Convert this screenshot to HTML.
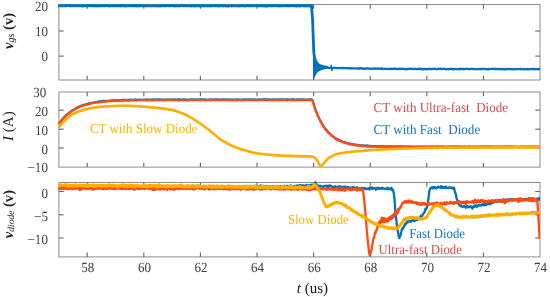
<!DOCTYPE html>
<html><head><meta charset="utf-8"><style>
html,body{margin:0;padding:0;background:#fff;}
svg{display:block;}
text{font-family:"Liberation Serif","Times New Roman",serif;text-rendering:geometricPrecision;}
.tk{font-size:14px;fill:#404040;}
.xl{font-size:15px;fill:#1a1a1a;}
.yl{font-size:14px;fill:#222;}
.an{font-size:13px;}
</style></head><body>
<svg width="550" height="297" viewBox="0 0 550 297">
<rect width="550" height="297" fill="#fff"/>
<defs><clipPath id="c1"><rect x="57.7" y="3.0" width="482.3" height="78.5"/></clipPath><clipPath id="c2"><rect x="57.7" y="90.5" width="482.3" height="78.1"/></clipPath><clipPath id="c3"><rect x="57.7" y="181.0" width="482.3" height="77.4"/></clipPath></defs><rect x="58.9" y="4.5" width="481.1" height="75.5" fill="none" stroke="#8c8c8c" stroke-width="1"/><line x1="87.20" y1="80.0" x2="87.20" y2="75.7" stroke="#666666" stroke-width="1.1"/><line x1="87.20" y1="4.5" x2="87.20" y2="8.8" stroke="#666666" stroke-width="1.1"/><line x1="143.80" y1="80.0" x2="143.80" y2="75.7" stroke="#666666" stroke-width="1.1"/><line x1="143.80" y1="4.5" x2="143.80" y2="8.8" stroke="#666666" stroke-width="1.1"/><line x1="200.40" y1="80.0" x2="200.40" y2="75.7" stroke="#666666" stroke-width="1.1"/><line x1="200.40" y1="4.5" x2="200.40" y2="8.8" stroke="#666666" stroke-width="1.1"/><line x1="257.00" y1="80.0" x2="257.00" y2="75.7" stroke="#666666" stroke-width="1.1"/><line x1="257.00" y1="4.5" x2="257.00" y2="8.8" stroke="#666666" stroke-width="1.1"/><line x1="313.60" y1="80.0" x2="313.60" y2="75.7" stroke="#666666" stroke-width="1.1"/><line x1="313.60" y1="4.5" x2="313.60" y2="8.8" stroke="#666666" stroke-width="1.1"/><line x1="370.20" y1="80.0" x2="370.20" y2="75.7" stroke="#666666" stroke-width="1.1"/><line x1="370.20" y1="4.5" x2="370.20" y2="8.8" stroke="#666666" stroke-width="1.1"/><line x1="426.80" y1="80.0" x2="426.80" y2="75.7" stroke="#666666" stroke-width="1.1"/><line x1="426.80" y1="4.5" x2="426.80" y2="8.8" stroke="#666666" stroke-width="1.1"/><line x1="483.40" y1="80.0" x2="483.40" y2="75.7" stroke="#666666" stroke-width="1.1"/><line x1="483.40" y1="4.5" x2="483.40" y2="8.8" stroke="#666666" stroke-width="1.1"/><line x1="58.9" y1="31.00" x2="63.7" y2="31.00" stroke="#666666" stroke-width="1.1"/><line x1="540.0" y1="31.00" x2="535.2" y2="31.00" stroke="#666666" stroke-width="1.1"/><line x1="58.9" y1="56.10" x2="63.7" y2="56.10" stroke="#666666" stroke-width="1.1"/><line x1="540.0" y1="56.10" x2="535.2" y2="56.10" stroke="#666666" stroke-width="1.1"/><rect x="58.9" y="92.0" width="481.1" height="75.1" fill="none" stroke="#8c8c8c" stroke-width="1"/><line x1="87.20" y1="167.1" x2="87.20" y2="162.8" stroke="#666666" stroke-width="1.1"/><line x1="87.20" y1="92.0" x2="87.20" y2="96.3" stroke="#666666" stroke-width="1.1"/><line x1="143.80" y1="167.1" x2="143.80" y2="162.8" stroke="#666666" stroke-width="1.1"/><line x1="143.80" y1="92.0" x2="143.80" y2="96.3" stroke="#666666" stroke-width="1.1"/><line x1="200.40" y1="167.1" x2="200.40" y2="162.8" stroke="#666666" stroke-width="1.1"/><line x1="200.40" y1="92.0" x2="200.40" y2="96.3" stroke="#666666" stroke-width="1.1"/><line x1="257.00" y1="167.1" x2="257.00" y2="162.8" stroke="#666666" stroke-width="1.1"/><line x1="257.00" y1="92.0" x2="257.00" y2="96.3" stroke="#666666" stroke-width="1.1"/><line x1="313.60" y1="167.1" x2="313.60" y2="162.8" stroke="#666666" stroke-width="1.1"/><line x1="313.60" y1="92.0" x2="313.60" y2="96.3" stroke="#666666" stroke-width="1.1"/><line x1="370.20" y1="167.1" x2="370.20" y2="162.8" stroke="#666666" stroke-width="1.1"/><line x1="370.20" y1="92.0" x2="370.20" y2="96.3" stroke="#666666" stroke-width="1.1"/><line x1="426.80" y1="167.1" x2="426.80" y2="162.8" stroke="#666666" stroke-width="1.1"/><line x1="426.80" y1="92.0" x2="426.80" y2="96.3" stroke="#666666" stroke-width="1.1"/><line x1="483.40" y1="167.1" x2="483.40" y2="162.8" stroke="#666666" stroke-width="1.1"/><line x1="483.40" y1="92.0" x2="483.40" y2="96.3" stroke="#666666" stroke-width="1.1"/><line x1="58.9" y1="110.10" x2="63.7" y2="110.10" stroke="#666666" stroke-width="1.1"/><line x1="540.0" y1="110.10" x2="535.2" y2="110.10" stroke="#666666" stroke-width="1.1"/><line x1="58.9" y1="129.20" x2="63.7" y2="129.20" stroke="#666666" stroke-width="1.1"/><line x1="540.0" y1="129.20" x2="535.2" y2="129.20" stroke="#666666" stroke-width="1.1"/><line x1="58.9" y1="148.00" x2="63.7" y2="148.00" stroke="#666666" stroke-width="1.1"/><line x1="540.0" y1="148.00" x2="535.2" y2="148.00" stroke="#666666" stroke-width="1.1"/><rect x="58.9" y="182.5" width="481.1" height="74.4" fill="none" stroke="#8c8c8c" stroke-width="1"/><line x1="87.20" y1="256.9" x2="87.20" y2="252.6" stroke="#666666" stroke-width="1.1"/><line x1="87.20" y1="182.5" x2="87.20" y2="186.8" stroke="#666666" stroke-width="1.1"/><line x1="143.80" y1="256.9" x2="143.80" y2="252.6" stroke="#666666" stroke-width="1.1"/><line x1="143.80" y1="182.5" x2="143.80" y2="186.8" stroke="#666666" stroke-width="1.1"/><line x1="200.40" y1="256.9" x2="200.40" y2="252.6" stroke="#666666" stroke-width="1.1"/><line x1="200.40" y1="182.5" x2="200.40" y2="186.8" stroke="#666666" stroke-width="1.1"/><line x1="257.00" y1="256.9" x2="257.00" y2="252.6" stroke="#666666" stroke-width="1.1"/><line x1="257.00" y1="182.5" x2="257.00" y2="186.8" stroke="#666666" stroke-width="1.1"/><line x1="313.60" y1="256.9" x2="313.60" y2="252.6" stroke="#666666" stroke-width="1.1"/><line x1="313.60" y1="182.5" x2="313.60" y2="186.8" stroke="#666666" stroke-width="1.1"/><line x1="370.20" y1="256.9" x2="370.20" y2="252.6" stroke="#666666" stroke-width="1.1"/><line x1="370.20" y1="182.5" x2="370.20" y2="186.8" stroke="#666666" stroke-width="1.1"/><line x1="426.80" y1="256.9" x2="426.80" y2="252.6" stroke="#666666" stroke-width="1.1"/><line x1="426.80" y1="182.5" x2="426.80" y2="186.8" stroke="#666666" stroke-width="1.1"/><line x1="483.40" y1="256.9" x2="483.40" y2="252.6" stroke="#666666" stroke-width="1.1"/><line x1="483.40" y1="182.5" x2="483.40" y2="186.8" stroke="#666666" stroke-width="1.1"/><line x1="58.9" y1="191.50" x2="63.7" y2="191.50" stroke="#666666" stroke-width="1.1"/><line x1="540.0" y1="191.50" x2="535.2" y2="191.50" stroke="#666666" stroke-width="1.1"/><line x1="58.9" y1="214.80" x2="63.7" y2="214.80" stroke="#666666" stroke-width="1.1"/><line x1="540.0" y1="214.80" x2="535.2" y2="214.80" stroke="#666666" stroke-width="1.1"/><line x1="58.9" y1="238.00" x2="63.7" y2="238.00" stroke="#666666" stroke-width="1.1"/><line x1="540.0" y1="238.00" x2="535.2" y2="238.00" stroke="#666666" stroke-width="1.1"/><g clip-path="url(#c1)"><polyline points="58.00,5.80 58.50,5.84 59.00,5.76 59.50,5.67 60.00,5.73 60.50,5.65 61.00,5.81 61.50,6.00 62.00,5.73 62.50,5.71 63.00,5.87 63.50,5.85 64.00,5.82 64.50,5.66 65.00,5.80 65.50,5.90 66.00,5.60 66.50,5.73 67.00,5.51 67.50,5.61 68.00,5.52 68.50,5.76 69.00,5.61 69.50,5.84 70.00,5.82 70.50,5.77 71.00,5.42 71.50,5.72 72.00,5.79 72.50,5.82 73.00,5.57 73.50,5.73 74.00,5.65 74.50,5.68 75.00,5.96 75.50,5.68 76.00,5.80 76.50,5.93 77.00,5.71 77.50,5.78 78.00,5.82 78.50,5.81 79.00,5.62 79.50,5.81 80.00,6.00 80.50,5.57 81.00,5.93 81.50,5.82 82.00,5.70 82.50,6.10 83.00,5.91 83.50,5.62 84.00,5.81 84.50,5.89 85.00,5.77 85.50,5.90 86.00,5.79 86.50,5.90 87.00,6.02 87.50,5.70 88.00,5.83 88.50,5.73 89.00,5.82 89.50,5.62 90.00,5.71 90.50,5.77 91.00,5.93 91.50,5.97 92.00,5.60 92.50,5.68 93.00,5.90 93.50,5.50 94.00,5.73 94.50,5.79 95.00,5.99 95.50,5.90 96.00,5.75 96.50,5.74 97.00,5.76 97.50,6.03 98.00,5.74 98.50,5.75 99.00,5.85 99.50,5.78 100.00,5.77 100.50,5.63 101.00,5.80 101.50,5.73 102.00,5.97 102.50,5.90 103.00,5.80 103.50,5.90 104.00,5.75 104.50,5.96 105.00,5.80 105.50,5.89 106.00,5.61 106.50,5.85 107.00,5.55 107.50,5.49 108.00,5.75 108.50,5.67 109.00,5.82 109.50,6.14 110.00,5.68 110.50,5.71 111.00,5.83 111.50,5.87 112.00,5.77 112.50,5.77 113.00,5.91 113.50,5.88 114.00,5.64 114.50,5.79 115.00,5.81 115.50,5.64 116.00,5.84 116.50,5.67 117.00,5.95 117.50,5.83 118.00,5.81 118.50,5.71 119.00,5.78 119.50,5.50 120.00,5.63 120.50,5.85 121.00,5.48 121.50,5.93 122.00,5.54 122.50,5.91 123.00,5.67 123.50,5.92 124.00,5.82 124.50,5.57 125.00,5.99 125.50,6.02 126.00,5.79 126.50,5.76 127.00,5.78 127.50,5.65 128.00,5.96 128.50,5.72 129.00,5.79 129.50,5.68 130.00,5.71 130.50,5.61 131.00,5.99 131.50,5.78 132.00,5.94 132.50,5.80 133.00,5.70 133.50,5.75 134.00,5.72 134.50,5.80 135.00,5.74 135.50,5.76 136.00,5.59 136.50,5.68 137.00,6.05 137.50,5.70 138.00,5.64 138.50,5.85 139.00,6.01 139.50,5.58 140.00,5.77 140.50,5.71 141.00,5.54 141.50,5.91 142.00,5.80 142.50,5.81 143.00,5.69 143.50,5.87 144.00,5.72 144.50,5.78 145.00,5.63 145.50,5.62 146.00,6.00 146.50,5.72 147.00,5.84 147.50,5.79 148.00,5.73 148.50,5.72 149.00,5.89 149.50,5.75 150.00,5.78 150.50,5.80 151.00,5.98 151.50,5.90 152.00,5.86 152.50,5.72 153.00,5.59 153.50,5.94 154.00,5.94 154.50,5.78 155.00,5.88 155.50,5.92 156.00,5.92 156.50,5.94 157.00,5.73 157.50,6.03 158.00,5.61 158.50,5.93 159.00,5.87 159.50,5.93 160.00,6.08 160.50,6.02 161.00,5.63 161.50,5.55 162.00,5.92 162.50,5.65 163.00,5.80 163.50,5.93 164.00,5.55 164.50,5.48 165.00,5.84 165.50,5.81 166.00,5.76 166.50,5.81 167.00,5.67 167.50,5.57 168.00,5.78 168.50,5.65 169.00,5.55 169.50,5.88 170.00,5.79 170.50,5.86 171.00,5.65 171.50,5.70 172.00,5.65 172.50,5.67 173.00,5.83 173.50,5.68 174.00,5.85 174.50,5.85 175.00,6.10 175.50,5.59 176.00,5.93 176.50,5.79 177.00,5.80 177.50,5.58 178.00,5.73 178.50,5.91 179.00,5.79 179.50,5.81 180.00,5.76 180.50,5.97 181.00,5.80 181.50,5.47 182.00,5.70 182.50,5.50 183.00,5.31 183.50,5.72 184.00,6.00 184.50,5.81 185.00,5.62 185.50,5.66 186.00,5.97 186.50,5.82 187.00,5.81 187.50,5.79 188.00,5.81 188.50,5.92 189.00,5.88 189.50,5.83 190.00,5.64 190.50,5.88 191.00,5.70 191.50,5.96 192.00,5.61 192.50,5.78 193.00,5.80 193.50,5.60 194.00,6.06 194.50,6.02 195.00,5.73 195.50,5.92 196.00,5.86 196.50,5.41 197.00,5.84 197.50,5.79 198.00,5.81 198.50,5.64 199.00,5.76 199.50,5.77 200.00,5.98 200.50,5.85 201.00,5.80 201.50,6.03 202.00,5.72 202.50,5.74 203.00,5.53 203.50,6.04 204.00,5.94 204.50,5.94 205.00,5.90 205.50,5.82 206.00,5.83 206.50,5.76 207.00,5.77 207.50,5.81 208.00,6.03 208.50,5.88 209.00,5.79 209.50,5.71 210.00,5.70 210.50,6.04 211.00,5.88 211.50,5.81 212.00,5.75 212.50,5.63 213.00,5.79 213.50,5.93 214.00,5.74 214.50,5.77 215.00,5.77 215.50,5.82 216.00,5.56 216.50,5.76 217.00,5.67 217.50,5.93 218.00,5.68 218.50,5.89 219.00,6.03 219.50,5.75 220.00,5.71 220.50,5.83 221.00,5.80 221.50,5.65 222.00,5.87 222.50,6.10 223.00,5.76 223.50,5.77 224.00,5.64 224.50,5.85 225.00,5.61 225.50,5.63 226.00,5.99 226.50,5.66 227.00,5.96 227.50,6.03 228.00,5.84 228.50,5.88 229.00,6.09 229.50,5.77 230.00,5.71 230.50,5.60 231.00,5.81 231.50,6.02 232.00,5.94 232.50,5.66 233.00,5.67 233.50,5.72 234.00,5.84 234.50,5.77 235.00,5.83 235.50,5.84 236.00,5.76 236.50,5.79 237.00,5.83 237.50,5.79 238.00,5.88 238.50,6.08 239.00,5.89 239.50,5.81 240.00,5.55 240.50,5.86 241.00,5.51 241.50,5.59 242.00,5.93 242.50,5.91 243.00,5.78 243.50,5.54 244.00,5.74 244.50,5.70 245.00,5.90 245.50,6.14 246.00,5.83 246.50,5.68 247.00,5.62 247.50,5.79 248.00,5.77 248.50,5.63 249.00,5.82 249.50,5.63 250.00,5.97 250.50,5.96 251.00,5.96 251.50,5.73 252.00,5.88 252.50,5.78 253.00,5.74 253.50,5.75 254.00,5.61 254.50,5.58 255.00,5.92 255.50,5.77 256.00,5.83 256.50,5.95 257.00,5.54 257.50,5.68 258.00,5.83 258.50,5.86 259.00,5.74 259.50,5.95 260.00,5.83 260.50,5.62 261.00,5.66 261.50,5.92 262.00,5.87 262.50,5.52 263.00,6.00 263.50,5.89 264.00,6.00 264.50,5.74 265.00,5.76 265.50,5.63 266.00,6.18 266.50,5.77 267.00,6.04 267.50,5.70 268.00,5.82 268.50,5.55 269.00,5.74 269.50,5.95 270.00,5.61 270.50,5.96 271.00,5.85 271.50,5.64 272.00,5.72 272.50,5.73 273.00,5.79 273.50,5.72 274.00,5.68 274.50,5.75 275.00,5.65 275.50,5.61 276.00,5.79 276.50,5.93 277.00,5.57 277.50,5.80 278.00,5.70 278.50,5.65 279.00,5.93 279.50,5.72 280.00,6.02 280.50,5.68 281.00,5.86 281.50,5.77 282.00,5.69 282.50,5.89 283.00,5.78 283.50,5.89 284.00,5.79 284.50,5.64 285.00,5.78 285.50,5.81 286.00,5.94 286.50,5.66 287.00,5.79 287.50,5.54 288.00,5.90 288.50,5.64 289.00,5.53 289.50,5.79 290.00,5.97 290.50,5.57 291.00,5.64 291.50,5.69 292.00,5.63 292.50,5.86 293.00,5.68 293.50,5.69 294.00,5.89 294.50,5.69 295.00,5.86 295.50,5.65 296.00,5.62 296.50,5.52 297.00,6.08 297.50,5.75 298.00,5.84 298.50,5.80 299.00,5.82 299.50,5.81 300.00,6.09 300.50,5.64 301.00,5.57 301.50,5.65 302.00,5.60 302.50,5.91 303.00,5.92 303.50,5.66 304.00,5.59 304.50,5.75 305.00,6.01 305.50,5.38 306.00,5.88 306.50,5.64 307.00,5.96 307.50,5.64 308.00,5.76 308.50,5.57 309.00,5.65 309.50,6.01 310.00,5.92 310.50,5.74 311.00,5.67 311.50,5.52 312.60,20.00 313.30,40.00 313.80,52.00 314.60,58.00 315.60,61.00 317.40,63.80 319.80,65.60 323.30,66.60 328.00,67.30" fill="none" stroke="#0072BD" stroke-width="2.8" stroke-linejoin="round" /><polygon points="312.9,45.0 313.8,52.0 314.6,58.0 315.6,61.0 317.4,63.8 319.8,65.6 323.3,66.6 328.0,67.5 329.2,68.6 324.5,69.2 321.0,70.2 318.6,71.6 316.8,73.3 315.0,76.3 314.0,79.5 313.0,79.5" fill="#0072BD"/><polyline points="328.0,67.82 328.5,67.90 329.0,67.90 329.5,67.91 330.0,67.71 330.5,67.93 331.0,67.95 331.5,68.22 332.0,68.35 332.5,67.95 333.0,67.84 333.5,67.99 334.0,67.89 334.5,67.87 335.0,68.02 335.5,67.83 336.0,68.17 336.5,68.03 337.0,68.11 337.5,68.04 338.0,67.94 338.5,67.90 339.0,68.05 339.5,68.00 340.0,68.17 340.5,68.13 341.0,67.87 341.5,68.16 342.0,67.89 342.5,68.04 343.0,68.12 343.5,67.77 344.0,68.21 344.5,68.23 345.0,68.18 345.5,68.14 346.0,68.16 346.5,68.04 347.0,68.19 347.5,68.15 348.0,68.28 348.5,68.03 349.0,68.33 349.5,68.32 350.0,68.27 350.5,68.22 351.0,68.43 351.5,68.00 352.0,68.43 352.5,68.39 353.0,68.41 353.5,68.44 354.0,68.24 354.5,68.33 355.0,68.52 355.5,68.48 356.0,68.45 356.5,68.11 357.0,68.53 357.5,68.67 358.0,68.64 358.5,68.50 359.0,68.15 359.5,68.65 360.0,68.44 360.5,67.98 361.0,68.57 361.5,68.20 362.0,68.25 362.5,68.39 363.0,68.78 363.5,68.46 364.0,68.59 364.5,68.89 365.0,68.87 365.5,68.54 366.0,68.52 366.5,68.32 367.0,68.44 367.5,68.68 368.0,68.68 368.5,68.63 369.0,68.81 369.5,68.47 370.0,68.62 370.5,68.78 371.0,68.76 371.5,68.86 372.0,68.73 372.5,68.60 373.0,68.74 373.5,68.47 374.0,68.35 374.5,68.80 375.0,68.68 375.5,68.76 376.0,68.37 376.5,68.64 377.0,68.60 377.5,68.55 378.0,68.28 378.5,68.67 379.0,68.92 379.5,68.83 380.0,68.63 380.5,68.76 381.0,68.92 381.5,68.22 382.0,68.75 382.5,68.89 383.0,68.92 383.5,69.13 384.0,69.02 384.5,68.86 385.0,68.87 385.5,68.97 386.0,68.71 386.5,68.81 387.0,69.01 387.5,69.22 388.0,68.80 388.5,68.83 389.0,68.88 389.5,69.11 390.0,68.84 390.5,69.15 391.0,68.66 391.5,68.82 392.0,68.82 392.5,69.02 393.0,69.08 393.5,68.57 394.0,68.69 394.5,68.94 395.0,68.75 395.5,68.58 396.0,69.09 396.5,68.99 397.0,68.99 397.5,68.80 398.0,69.10 398.5,68.85 399.0,69.12 399.5,68.72 400.0,68.73 400.5,68.94 401.0,68.76 401.5,69.04 402.0,68.96 402.5,68.72 403.0,68.92 403.5,68.84 404.0,69.09 404.5,68.79 405.0,68.83 405.5,69.16 406.0,69.36 406.5,69.32 407.0,68.93 407.5,68.96 408.0,69.23 408.5,68.90 409.0,68.73 409.5,68.95 410.0,69.02 410.5,68.76 411.0,68.60 411.5,68.64 412.0,69.07 412.5,68.78 413.0,68.91 413.5,68.98 414.0,69.06 414.5,68.87 415.0,69.04 415.5,68.76 416.0,68.87 416.5,68.74 417.0,69.17 417.5,68.94 418.0,68.80 418.5,68.88 419.0,68.91 419.5,69.09 420.0,68.63 420.5,68.75 421.0,68.88 421.5,69.46 422.0,69.15 422.5,68.94 423.0,69.10 423.5,69.37 424.0,68.92 424.5,68.89 425.0,69.21 425.5,69.06 426.0,69.10 426.5,68.87 427.0,69.35 427.5,69.31 428.0,69.08 428.5,69.11 429.0,68.57 429.5,69.10 430.0,68.94 430.5,69.06 431.0,69.11 431.5,68.91 432.0,68.64 432.5,69.05 433.0,68.83 433.5,68.92 434.0,68.86 434.5,68.92 435.0,68.52 435.5,69.23 436.0,69.04 436.5,69.21 437.0,69.39 437.5,69.00 438.0,68.63 438.5,68.82 439.0,68.75 439.5,68.90 440.0,69.01 440.5,68.60 441.0,69.07 441.5,68.70 442.0,69.06 442.5,68.98 443.0,68.94 443.5,68.99 444.0,68.90 444.5,68.88 445.0,68.67 445.5,69.00 446.0,69.38 446.5,69.41 447.0,69.28 447.5,69.15 448.0,68.88 448.5,69.30 449.0,69.00 449.5,69.00 450.0,68.96 450.5,69.04 451.0,68.93 451.5,69.00 452.0,68.80 452.5,68.95 453.0,69.48 453.5,69.01 454.0,68.98 454.5,69.13 455.0,69.17 455.5,68.80 456.0,68.99 456.5,69.21 457.0,69.08 457.5,69.05 458.0,69.34 458.5,68.90 459.0,69.05 459.5,68.93 460.0,69.33 460.5,68.64 461.0,68.90 461.5,68.93 462.0,69.17 462.5,69.16 463.0,69.32 463.5,68.72 464.0,69.19 464.5,68.98 465.0,68.91 465.5,69.15 466.0,68.86 466.5,68.63 467.0,68.97 467.5,68.75 468.0,68.92 468.5,69.12 469.0,69.11 469.5,69.37 470.0,69.01 470.5,68.74 471.0,68.90 471.5,68.87 472.0,68.81 472.5,69.14 473.0,68.92 473.5,68.66 474.0,69.19 474.5,69.03 475.0,69.13 475.5,69.08 476.0,69.18 476.5,69.07 477.0,69.31 477.5,69.14 478.0,69.14 478.5,69.14 479.0,68.77 479.5,69.03 480.0,69.01 480.5,69.10 481.0,68.79 481.5,69.39 482.0,69.09 482.5,68.82 483.0,68.72 483.5,69.01 484.0,69.05 484.5,68.92 485.0,69.09 485.5,68.94 486.0,69.18 486.5,68.93 487.0,69.06 487.5,69.27 488.0,69.59 488.5,68.87 489.0,68.98 489.5,68.91 490.0,69.23 490.5,68.84 491.0,68.98 491.5,69.07 492.0,68.88 492.5,68.88 493.0,68.98 493.5,68.66 494.0,68.79 494.5,69.00 495.0,69.11 495.5,69.04 496.0,68.72 496.5,68.99 497.0,69.24 497.5,69.19 498.0,69.07 498.5,68.90 499.0,69.21 499.5,68.97 500.0,68.85 500.5,68.92 501.0,69.37 501.5,69.13 502.0,69.32 502.5,68.99 503.0,69.27 503.5,68.97 504.0,69.05 504.5,69.58 505.0,69.24 505.5,68.99 506.0,69.07 506.5,69.15 507.0,69.33 507.5,68.99 508.0,68.74 508.5,69.03 509.0,69.09 509.5,69.11 510.0,69.35 510.5,69.15 511.0,69.25 511.5,68.87 512.0,69.27 512.5,69.51 513.0,69.25 513.5,69.14 514.0,69.12 514.5,69.45 515.0,68.91 515.5,69.07 516.0,69.19 516.5,69.24 517.0,69.01 517.5,69.16 518.0,69.04 518.5,69.12 519.0,69.07 519.5,68.87 520.0,69.09 520.5,69.27 521.0,68.90 521.5,69.05 522.0,69.23 522.5,68.88 523.0,69.13 523.5,68.88 524.0,69.32 524.5,69.56 525.0,69.50 525.5,69.05 526.0,69.25 526.5,69.12 527.0,69.12 527.5,69.41 528.0,68.83 528.5,69.31 529.0,69.09 529.5,69.38 530.0,69.14 530.5,68.96 531.0,69.15 531.5,69.25 532.0,69.11 532.5,69.20 533.0,69.00 533.5,68.67 534.0,69.28 534.5,69.24 535.0,69.13 535.5,69.11 536.0,69.31 536.5,69.01 537.0,68.96 537.5,69.06 538.0,69.34 538.5,68.82 539.0,69.34 539.5,68.97 540.0,68.88 540.5,69.35 541.0,69.08" fill="none" stroke="#0072BD" stroke-width="2.2" stroke-linejoin="round" /><polyline points="330.80,67.60 331.40,65.20 331.90,70.60 332.50,68.20" fill="none" stroke="#0072BD" stroke-width="1.4" stroke-linejoin="round" /></g><g clip-path="url(#c2)"><polyline points="58.9,123.40 59.4,122.82 59.9,122.32 60.4,121.69 60.9,120.79 61.4,120.28 61.9,119.71 62.4,118.91 62.9,118.48 63.4,117.86 63.9,117.24 64.4,116.71 64.9,116.28 65.4,115.78 65.9,115.20 66.4,114.75 66.9,114.53 67.4,113.95 67.9,113.62 68.4,113.25 68.9,112.76 69.4,112.62 69.9,111.77 70.4,111.65 70.9,111.12 71.4,111.10 71.9,110.74 72.4,109.86 72.9,109.69 73.4,109.63 73.9,109.35 74.4,109.05 74.9,108.65 75.4,108.45 75.9,108.22 76.4,107.85 76.9,107.77 77.4,107.03 77.9,107.23 78.4,106.75 78.9,106.83 79.4,106.44 79.9,106.13 80.4,106.12 80.9,105.73 81.4,105.54 81.9,105.26 82.4,105.31 82.9,105.21 83.4,105.12 83.9,104.78 84.4,104.80 84.9,104.49 85.4,104.33 85.9,104.28 86.4,104.22 86.9,103.87 87.4,103.75 87.9,103.63 88.4,103.55 88.9,103.28 89.4,103.45 89.9,103.12 90.4,103.14 90.9,102.84 91.4,102.91 91.9,102.82 92.4,102.60 92.9,102.87 93.4,102.53 93.9,102.65 94.4,102.44 94.9,102.11 95.4,102.07 95.9,102.11 96.4,101.98 96.9,101.90 97.4,101.78 97.9,101.48 98.4,101.65 98.9,101.29 99.4,101.61 99.9,101.38 100.4,101.32 100.9,101.34 101.4,101.36 101.9,101.05 102.4,100.94 102.9,100.99 103.4,100.80 103.9,100.91 104.4,101.25 104.9,100.80 105.4,101.01 105.9,100.67 106.4,100.88 106.9,100.74 107.4,100.74 107.9,100.80 108.4,100.94 108.9,100.67 109.4,100.62 109.9,100.42 110.4,100.62 110.9,100.47 111.4,100.60 111.9,100.43 112.4,100.67 112.9,100.09 113.4,100.31 113.9,100.46 114.4,100.25 114.9,100.16 115.4,100.21 115.9,100.02 116.4,100.22 116.9,100.55 117.4,100.33 117.9,99.97 118.4,99.99 118.9,100.04 119.4,100.23 119.9,99.94 120.4,99.94 120.9,100.16 121.4,100.14 121.9,99.94 122.4,99.81 122.9,99.73 123.4,99.84 123.9,99.60 124.4,100.03 124.9,99.81 125.4,99.96 125.9,100.16 126.4,100.04 126.9,99.68 127.4,99.97 127.9,100.00 128.4,99.70 128.9,99.66 129.4,99.78 129.9,99.54 130.4,100.00 130.9,99.40 131.4,99.59 131.9,99.71 132.4,99.70 132.9,99.75 133.4,99.76 133.9,99.68 134.4,99.88 134.9,99.38 135.4,99.69 135.9,99.58 136.4,99.70 136.9,99.70 137.4,99.53 137.9,99.56 138.4,99.77 138.9,99.70 139.4,99.54 139.9,99.94 140.4,99.97 140.9,99.40 141.4,99.66 141.9,99.99 142.4,99.73 142.9,99.64 143.4,99.57 143.9,99.51 144.4,99.56 144.9,99.50 145.4,99.69 145.9,99.52 146.4,99.51 146.9,99.39 147.4,99.56 147.9,99.43 148.4,99.53 148.9,99.71 149.4,99.61 149.9,99.63 150.4,99.60 150.9,99.55 151.4,99.52 151.9,99.49 152.4,99.65 152.9,99.37 153.4,99.73 153.9,99.53 154.4,99.41 154.9,99.45 155.4,99.42 155.9,99.54 156.4,99.41 156.9,99.69 157.4,99.40 157.9,99.17 158.4,99.40 158.9,99.21 159.4,99.50 159.9,99.66 160.4,99.60 160.9,99.30 161.4,99.39 161.9,99.77 162.4,99.55 162.9,99.50 163.4,99.65 163.9,99.86 164.4,99.69 164.9,99.51 165.4,99.54 165.9,99.58 166.4,99.40 166.9,99.33 167.4,99.49 167.9,99.34 168.4,99.47 168.9,99.50 169.4,99.83 169.9,99.35 170.4,99.46 170.9,99.45 171.4,99.54 171.9,99.63 172.4,99.40 172.9,99.35 173.4,99.23 173.9,99.33 174.4,99.55 174.9,99.48 175.4,99.32 175.9,99.42 176.4,99.48 176.9,99.55 177.4,99.38 177.9,99.43 178.4,99.20 178.9,99.29 179.4,99.71 179.9,99.14 180.4,99.42 180.9,99.50 181.4,99.41 181.9,99.34 182.4,99.46 182.9,99.46 183.4,99.45 183.9,99.18 184.4,99.44 184.9,99.33 185.4,99.38 185.9,99.50 186.4,99.56 186.9,99.60 187.4,99.39 187.9,99.60 188.4,99.64 188.9,99.63 189.4,99.67 189.9,99.44 190.4,99.43 190.9,99.58 191.4,99.25 191.9,99.49 192.4,99.38 192.9,99.40 193.4,99.20 193.9,99.32 194.4,99.45 194.9,99.59 195.4,99.60 195.9,99.44 196.4,99.43 196.9,99.33 197.4,99.52 197.9,99.42 198.4,99.55 198.9,99.72 199.4,99.45 199.9,99.23 200.4,99.33 200.9,99.24 201.4,99.27 201.9,99.65 202.4,99.49 202.9,99.23 203.4,99.55 203.9,99.64 204.4,99.40 204.9,99.35 205.4,99.40 205.9,99.50 206.4,99.55 206.9,99.63 207.4,99.64 207.9,99.63 208.4,99.66 208.9,99.55 209.4,99.22 209.9,99.43 210.4,99.50 210.9,99.40 211.4,99.59 211.9,99.40 212.4,99.31 212.9,99.67 213.4,99.55 213.9,99.49 214.4,99.59 214.9,99.61 215.4,99.50 215.9,99.08 216.4,99.35 216.9,99.38 217.4,99.30 217.9,99.48 218.4,99.63 218.9,99.38 219.4,99.28 219.9,99.76 220.4,99.38 220.9,99.27 221.4,99.49 221.9,99.52 222.4,99.35 222.9,99.57 223.4,99.38 223.9,99.31 224.4,99.48 224.9,99.57 225.4,99.36 225.9,99.50 226.4,99.44 226.9,99.87 227.4,99.34 227.9,99.66 228.4,99.44 228.9,99.43 229.4,99.56 229.9,99.58 230.4,99.64 230.9,99.50 231.4,99.36 231.9,99.37 232.4,99.53 232.9,99.54 233.4,99.66 233.9,99.51 234.4,99.61 234.9,99.68 235.4,99.48 235.9,99.23 236.4,99.27 236.9,99.23 237.4,99.69 237.9,99.32 238.4,99.64 238.9,99.54 239.4,99.71 239.9,99.60 240.4,99.44 240.9,99.42 241.4,99.46 241.9,99.48 242.4,99.37 242.9,99.45 243.4,99.69 243.9,99.20 244.4,99.49 244.9,99.31 245.4,99.48 245.9,99.58 246.4,99.44 246.9,99.57 247.4,99.21 247.9,99.62 248.4,99.36 248.9,99.54 249.4,99.48 249.9,99.06 250.4,99.34 250.9,99.48 251.4,99.68 251.9,99.49 252.4,99.49 252.9,99.24 253.4,99.66 253.9,99.72 254.4,99.45 254.9,99.42 255.4,99.21 255.9,99.58 256.4,99.86 256.9,99.56 257.4,99.64 257.9,99.53 258.4,99.30 258.9,99.65 259.4,99.26 259.9,99.42 260.4,99.49 260.9,99.58 261.4,99.51 261.9,99.51 262.4,99.34 262.9,99.26 263.4,99.46 263.9,99.34 264.4,99.25 264.9,99.26 265.4,99.38 265.9,99.17 266.4,99.25 266.9,99.20 267.4,99.48 267.9,99.51 268.4,99.75 268.9,99.23 269.4,99.35 269.9,99.59 270.4,99.42 270.9,99.40 271.4,99.71 271.9,99.40 272.4,99.28 272.9,99.25 273.4,99.50 273.9,99.50 274.4,99.24 274.9,99.30 275.4,99.53 275.9,99.54 276.4,99.35 276.9,99.54 277.4,99.54 277.9,99.18 278.4,99.40 278.9,99.51 279.4,99.36 279.9,99.13 280.4,99.41 280.9,99.56 281.4,99.69 281.9,99.12 282.4,99.84 282.9,99.28 283.4,99.59 283.9,99.64 284.4,99.60 284.9,99.47 285.4,99.28 285.9,99.54 286.4,99.34 286.9,99.07 287.4,99.87 287.9,99.56 288.4,99.72 288.9,99.31 289.4,99.67 289.9,99.69 290.4,99.68 290.9,99.45 291.4,99.27 291.9,99.42 292.4,99.12 292.9,99.19 293.4,99.46 293.9,99.30 294.4,99.43 294.9,99.43 295.4,99.74 295.9,99.64 296.4,99.44 296.9,99.63 297.4,99.33 297.9,99.40 298.4,99.59 298.9,99.26 299.4,99.41 299.9,99.25 300.4,99.47 300.9,99.69 301.4,99.34 301.9,99.48 302.4,99.32 302.9,99.28 303.4,99.26 303.9,99.67 304.4,99.80 304.9,99.52 305.4,99.34 305.9,99.56 306.4,99.40 306.9,99.57 307.4,99.49 307.9,99.49 308.4,99.54 308.9,99.36 309.4,99.39 309.9,99.19 310.4,99.38 310.9,99.24 311.4,99.43 311.9,99.31 312.4,99.81 312.9,101.55 313.4,102.90 313.9,104.56 314.4,106.05 314.9,107.76 315.4,109.31 315.9,110.53 316.4,111.66 316.9,113.19 317.4,113.95 317.9,115.57 318.4,116.38 318.9,117.14 319.4,119.00 319.9,119.85 320.4,120.43 320.9,121.55 321.4,122.40 321.9,123.31 322.4,123.91 322.9,124.84 323.4,125.80 323.9,126.51 324.4,127.38 324.9,127.91 325.4,128.93 325.9,129.12 326.4,129.89 326.9,130.16 327.4,130.84 327.9,131.79 328.4,131.99 328.9,132.73 329.4,133.15 329.9,133.48 330.4,134.05 330.9,134.48 331.4,134.91 331.9,135.52 332.4,135.90 332.9,136.11 333.4,136.43 333.9,136.97 334.4,137.26 334.9,137.76 335.4,138.33 335.9,138.37 336.4,138.54 336.9,138.81 337.4,138.98 337.9,139.24 338.4,139.49 338.9,139.83 339.4,140.06 339.9,140.47 340.4,140.52 340.9,140.77 341.4,140.82 341.9,141.45 342.4,141.48 342.9,141.85 343.4,141.88 343.9,142.16 344.4,142.07 344.9,142.37 345.4,142.83 345.9,142.38 346.4,142.89 346.9,143.11 347.4,143.05 347.9,143.23 348.4,143.43 348.9,143.26 349.4,143.53 349.9,143.45 350.4,143.59 350.9,143.70 351.4,143.87 351.9,144.01 352.4,144.15 352.9,143.95 353.4,144.56 353.9,144.52 354.4,144.53 354.9,144.44 355.4,144.56 355.9,144.73 356.4,144.77 356.9,144.52 357.4,144.95 357.9,145.35 358.4,144.68 358.9,145.17 359.4,145.13 359.9,145.11 360.4,145.39 360.9,145.05 361.4,145.30 361.9,145.55 362.4,145.34 362.9,145.34 363.4,145.47 363.9,145.42 364.4,145.77 364.9,145.43 365.4,145.74 365.9,145.44 366.4,145.77 366.9,145.68 367.4,145.33 367.9,145.76 368.4,145.62 368.9,145.75 369.4,146.08 369.9,145.70 370.4,145.73 370.9,146.14 371.4,145.96 371.9,146.20 372.4,146.03 372.9,145.87 373.4,146.01 373.9,146.23 374.4,146.21 374.9,146.08 375.4,146.10 375.9,146.09 376.4,146.04 376.9,146.44 377.4,146.16 377.9,146.00 378.4,146.11 378.9,146.31 379.4,146.31 379.9,146.20 380.4,146.13 380.9,146.25 381.4,146.00 381.9,146.07 382.4,146.40 382.9,146.21 383.4,146.36 383.9,146.49 384.4,146.42 384.9,146.33 385.4,146.66 385.9,146.44 386.4,146.29 386.9,146.47 387.4,146.42 387.9,146.24 388.4,146.39 388.9,146.36 389.4,146.08 389.9,146.37 390.4,146.36 390.9,146.34 391.4,146.16 391.9,146.36 392.4,146.41 392.9,146.44 393.4,146.25 393.9,146.53 394.4,146.25 394.9,146.41 395.4,146.65 395.9,146.34 396.4,146.37 396.9,146.62 397.4,146.40 397.9,146.42 398.4,146.50 398.9,146.63 399.4,146.13 399.9,146.35 400.4,146.32 400.9,146.31 401.4,146.35 401.9,146.36 402.4,146.53 402.9,146.35 403.4,146.51 403.9,146.56 404.4,146.38 404.9,146.52 405.4,146.75 405.9,146.55 406.4,146.41 406.9,146.50 407.4,146.37 407.9,146.55 408.4,146.64 408.9,146.39 409.4,146.48 409.9,146.68 410.4,146.44 410.9,146.55 411.4,146.36 411.9,146.39 412.4,146.44 412.9,146.85 413.4,146.46 413.9,146.44 414.4,146.44 414.9,146.50 415.4,146.62 415.9,146.56 416.4,146.84 416.9,146.56 417.4,146.75 417.9,146.57 418.4,146.62 418.9,146.31 419.4,146.51 419.9,146.52 420.4,146.50 420.9,146.21 421.4,146.67 421.9,146.48 422.4,146.47 422.9,146.50 423.4,146.50 423.9,146.60 424.4,146.35 424.9,146.40 425.4,146.58 425.9,146.56 426.4,146.48 426.9,146.45 427.4,146.41 427.9,146.53 428.4,146.72 428.9,146.38 429.4,146.77 429.9,146.67 430.4,146.47 430.9,146.66 431.4,146.32 431.9,146.28 432.4,146.35 432.9,146.48 433.4,146.49 433.9,146.47 434.4,146.56 434.9,146.22 435.4,146.62 435.9,146.33 436.4,146.45 436.9,146.48 437.4,146.37 437.9,146.34 438.4,146.39 438.9,146.54 439.4,146.63 439.9,146.63 440.4,146.40 440.9,146.43 441.4,146.41 441.9,146.61 442.4,146.24 442.9,146.73 443.4,146.47 443.9,146.43 444.4,146.60 444.9,146.70 445.4,146.60 445.9,146.71 446.4,146.57 446.9,146.73 447.4,146.73 447.9,146.53 448.4,146.76 448.9,146.57 449.4,146.56 449.9,146.41 450.4,146.50 450.9,146.66 451.4,146.35 451.9,146.65 452.4,146.60 452.9,146.59 453.4,146.22 453.9,146.53 454.4,146.65 454.9,146.43 455.4,146.56 455.9,146.19 456.4,146.65 456.9,146.45 457.4,146.68 457.9,146.27 458.4,146.65 458.9,146.51 459.4,146.67 459.9,146.41 460.4,146.46 460.9,146.89 461.4,146.42 461.9,146.44 462.4,146.51 462.9,146.40 463.4,146.73 463.9,146.81 464.4,146.44 464.9,146.29 465.4,146.73 465.9,146.72 466.4,146.67 466.9,146.72 467.4,146.42 467.9,146.52 468.4,146.34 468.9,146.34 469.4,146.70 469.9,146.45 470.4,146.89 470.9,146.56 471.4,146.45 471.9,146.67 472.4,146.82 472.9,146.62 473.4,146.37 473.9,146.61 474.4,146.76 474.9,146.48 475.4,146.43 475.9,146.70 476.4,146.57 476.9,146.38 477.4,146.49 477.9,146.44 478.4,146.59 478.9,146.57 479.4,146.72 479.9,146.66 480.4,146.32 480.9,146.61 481.4,146.68 481.9,146.62 482.4,146.70 482.9,146.47 483.4,146.41 483.9,146.69 484.4,146.39 484.9,146.23 485.4,146.70 485.9,146.44 486.4,146.50 486.9,146.34 487.4,146.35 487.9,146.38 488.4,146.50 488.9,146.61 489.4,146.21 489.9,146.66 490.4,146.37 490.9,146.39 491.4,146.65 491.9,146.54 492.4,146.32 492.9,146.83 493.4,146.42 493.9,146.59 494.4,146.58 494.9,146.76 495.4,146.48 495.9,146.70 496.4,146.44 496.9,146.72 497.4,146.44 497.9,146.50 498.4,146.83 498.9,146.60 499.4,146.57 499.9,146.89 500.4,146.60 500.9,146.43 501.4,146.66 501.9,146.37 502.4,146.72 502.9,146.73 503.4,146.46 503.9,146.46 504.4,146.58 504.9,146.55 505.4,146.40 505.9,146.64 506.4,146.24 506.9,146.49 507.4,146.49 507.9,146.51 508.4,146.60 508.9,146.37 509.4,146.64 509.9,146.52 510.4,146.45 510.9,146.34 511.4,146.37 511.9,146.60 512.4,146.41 512.9,146.56 513.4,146.71 513.9,146.70 514.4,146.78 514.9,146.51 515.4,146.39 515.9,146.70 516.4,146.60 516.9,146.72 517.4,146.55 517.9,146.73 518.4,146.68 518.9,146.66 519.4,146.63 519.9,146.61 520.4,146.58 520.9,146.58 521.4,146.70 521.9,146.47 522.4,146.81 522.9,146.53 523.4,146.70 523.9,146.54 524.4,146.51 524.9,146.85 525.4,146.50 525.9,146.36 526.4,146.44 526.9,146.50 527.4,146.87 527.9,146.58 528.4,146.69 528.9,146.40 529.4,146.60 529.9,146.65 530.4,146.82 530.9,146.45 531.4,146.64 531.9,146.60 532.4,146.40 532.9,146.55 533.4,146.51 533.9,146.20 534.4,146.64 534.9,146.63 535.4,146.48 535.9,146.35 536.4,146.77 536.9,146.59 537.4,146.70 537.9,146.76 538.4,146.47 538.9,146.67 539.4,146.51 539.9,146.54 540.4,146.54 540.9,146.55" fill="none" stroke="#0072BD" stroke-width="2.0" stroke-linejoin="round" /><polyline points="58.9,124.36 59.4,123.50 59.9,122.76 60.4,122.07 60.9,121.51 61.4,120.69 61.9,120.13 62.4,119.60 62.9,118.94 63.4,118.44 63.9,117.82 64.4,117.69 64.9,117.07 65.4,116.44 65.9,115.88 66.4,115.75 66.9,115.01 67.4,114.51 67.9,114.14 68.4,113.72 68.9,113.48 69.4,112.87 69.9,112.81 70.4,111.99 70.9,111.87 71.4,111.27 71.9,111.36 72.4,110.71 72.9,110.43 73.4,110.27 73.9,110.02 74.4,109.37 74.9,109.21 75.4,108.78 75.9,108.74 76.4,108.45 76.9,108.16 77.4,107.87 77.9,107.68 78.4,107.40 78.9,107.37 79.4,107.30 79.9,106.57 80.4,106.64 80.9,106.40 81.4,106.35 81.9,105.95 82.4,105.89 82.9,105.58 83.4,105.67 83.9,105.42 84.4,105.22 84.9,105.15 85.4,104.91 85.9,104.56 86.4,104.75 86.9,104.56 87.4,104.36 87.9,104.41 88.4,104.32 88.9,103.85 89.4,103.78 89.9,104.01 90.4,103.88 90.9,103.45 91.4,103.28 91.9,103.26 92.4,103.18 92.9,102.93 93.4,103.08 93.9,102.79 94.4,102.71 94.9,102.95 95.4,102.63 95.9,102.64 96.4,102.67 96.9,102.62 97.4,102.37 97.9,102.36 98.4,102.16 98.9,102.48 99.4,102.25 99.9,101.93 100.4,102.03 100.9,102.08 101.4,101.99 101.9,102.14 102.4,102.01 102.9,101.67 103.4,101.69 103.9,101.46 104.4,101.64 104.9,101.58 105.4,101.92 105.9,101.49 106.4,101.12 106.9,101.29 107.4,101.37 107.9,101.12 108.4,101.14 108.9,101.18 109.4,101.25 109.9,101.14 110.4,101.00 110.9,101.22 111.4,100.99 111.9,100.97 112.4,100.80 112.9,100.87 113.4,101.05 113.9,100.69 114.4,100.89 114.9,100.99 115.4,100.80 115.9,100.87 116.4,100.64 116.9,100.98 117.4,100.93 117.9,100.78 118.4,100.46 118.9,100.54 119.4,100.83 119.9,100.92 120.4,100.69 120.9,100.81 121.4,100.52 121.9,100.56 122.4,100.58 122.9,100.62 123.4,100.32 123.9,100.67 124.4,100.72 124.9,100.33 125.4,100.29 125.9,100.53 126.4,100.37 126.9,100.10 127.4,100.56 127.9,100.45 128.4,100.35 128.9,100.72 129.4,100.42 129.9,100.27 130.4,100.39 130.9,100.21 131.4,100.24 131.9,100.41 132.4,100.26 132.9,100.26 133.4,100.57 133.9,100.44 134.4,100.43 134.9,100.38 135.4,100.36 135.9,100.50 136.4,100.27 136.9,100.55 137.4,100.12 137.9,100.22 138.4,100.04 138.9,100.19 139.4,100.32 139.9,100.45 140.4,100.13 140.9,100.22 141.4,100.16 141.9,100.10 142.4,100.03 142.9,100.21 143.4,99.94 143.9,100.21 144.4,100.19 144.9,100.09 145.4,100.03 145.9,99.97 146.4,100.45 146.9,99.97 147.4,100.40 147.9,100.25 148.4,100.11 148.9,99.98 149.4,100.31 149.9,100.41 150.4,100.01 150.9,100.10 151.4,100.30 151.9,100.19 152.4,100.44 152.9,100.05 153.4,100.21 153.9,99.94 154.4,100.44 154.9,100.01 155.4,99.79 155.9,100.10 156.4,100.10 156.9,100.40 157.4,100.06 157.9,100.11 158.4,100.20 158.9,100.35 159.4,100.10 159.9,100.26 160.4,100.18 160.9,100.06 161.4,100.11 161.9,100.10 162.4,99.96 162.9,100.28 163.4,99.89 163.9,100.27 164.4,100.24 164.9,100.08 165.4,99.97 165.9,100.05 166.4,100.16 166.9,100.20 167.4,100.13 167.9,100.23 168.4,100.00 168.9,100.12 169.4,99.85 169.9,100.19 170.4,100.10 170.9,100.02 171.4,100.25 171.9,100.18 172.4,99.65 172.9,100.08 173.4,99.86 173.9,100.23 174.4,100.45 174.9,99.99 175.4,100.08 175.9,100.03 176.4,100.12 176.9,100.17 177.4,100.26 177.9,99.92 178.4,100.30 178.9,99.93 179.4,100.11 179.9,100.24 180.4,100.17 180.9,99.92 181.4,99.96 181.9,100.00 182.4,100.06 182.9,100.24 183.4,99.87 183.9,100.13 184.4,100.15 184.9,100.15 185.4,100.13 185.9,100.29 186.4,100.13 186.9,100.19 187.4,100.15 187.9,100.33 188.4,99.77 188.9,100.25 189.4,100.02 189.9,100.02 190.4,99.91 190.9,99.78 191.4,100.00 191.9,99.95 192.4,100.13 192.9,99.84 193.4,100.27 193.9,100.10 194.4,100.02 194.9,99.95 195.4,99.94 195.9,99.89 196.4,99.97 196.9,100.06 197.4,100.03 197.9,99.84 198.4,100.02 198.9,99.92 199.4,100.08 199.9,100.33 200.4,100.15 200.9,100.01 201.4,99.81 201.9,99.84 202.4,99.80 202.9,100.16 203.4,99.94 203.9,100.06 204.4,99.96 204.9,100.07 205.4,100.26 205.9,99.95 206.4,100.00 206.9,99.93 207.4,100.18 207.9,99.90 208.4,99.88 208.9,99.84 209.4,99.84 209.9,100.12 210.4,100.44 210.9,99.90 211.4,100.20 211.9,100.09 212.4,99.89 212.9,100.01 213.4,100.02 213.9,99.95 214.4,100.34 214.9,99.77 215.4,100.11 215.9,100.10 216.4,99.96 216.9,100.07 217.4,100.18 217.9,100.07 218.4,100.11 218.9,100.16 219.4,99.75 219.9,100.27 220.4,100.39 220.9,100.20 221.4,100.20 221.9,99.84 222.4,100.03 222.9,99.93 223.4,99.96 223.9,100.20 224.4,99.93 224.9,100.03 225.4,99.76 225.9,100.03 226.4,100.06 226.9,99.95 227.4,99.94 227.9,100.33 228.4,99.87 228.9,99.89 229.4,99.93 229.9,100.23 230.4,100.37 230.9,100.10 231.4,99.94 231.9,99.99 232.4,100.21 232.9,99.91 233.4,100.27 233.9,100.26 234.4,100.06 234.9,100.15 235.4,100.16 235.9,100.28 236.4,99.89 236.9,100.23 237.4,99.99 237.9,99.94 238.4,100.07 238.9,100.02 239.4,99.90 239.9,99.81 240.4,99.91 240.9,100.27 241.4,100.34 241.9,100.15 242.4,100.23 242.9,99.97 243.4,100.04 243.9,100.09 244.4,99.89 244.9,99.90 245.4,100.06 245.9,100.00 246.4,99.89 246.9,100.11 247.4,100.01 247.9,100.20 248.4,100.05 248.9,100.01 249.4,100.07 249.9,100.02 250.4,99.95 250.9,99.99 251.4,100.16 251.9,100.15 252.4,100.24 252.9,99.80 253.4,99.99 253.9,99.99 254.4,100.08 254.9,99.98 255.4,99.97 255.9,100.17 256.4,100.08 256.9,99.88 257.4,100.25 257.9,100.20 258.4,99.96 258.9,100.17 259.4,99.94 259.9,100.22 260.4,100.02 260.9,99.93 261.4,99.99 261.9,99.94 262.4,100.08 262.9,100.08 263.4,100.06 263.9,99.97 264.4,99.50 264.9,100.06 265.4,99.77 265.9,100.09 266.4,100.22 266.9,100.09 267.4,99.99 267.9,100.02 268.4,100.03 268.9,99.97 269.4,99.96 269.9,99.91 270.4,100.23 270.9,100.05 271.4,100.19 271.9,100.01 272.4,100.06 272.9,100.02 273.4,100.12 273.9,100.17 274.4,100.09 274.9,99.95 275.4,99.93 275.9,100.30 276.4,100.01 276.9,100.01 277.4,100.27 277.9,100.21 278.4,100.13 278.9,99.99 279.4,100.40 279.9,100.11 280.4,100.13 280.9,100.02 281.4,99.84 281.9,99.85 282.4,100.11 282.9,100.11 283.4,100.01 283.9,99.87 284.4,99.83 284.9,100.00 285.4,99.83 285.9,100.18 286.4,100.22 286.9,100.47 287.4,100.18 287.9,99.96 288.4,99.92 288.9,99.53 289.4,99.96 289.9,100.02 290.4,100.20 290.9,100.14 291.4,100.14 291.9,100.08 292.4,100.15 292.9,100.27 293.4,99.89 293.9,99.98 294.4,99.84 294.9,100.29 295.4,100.24 295.9,100.16 296.4,99.87 296.9,100.08 297.4,100.01 297.9,100.06 298.4,100.02 298.9,100.13 299.4,99.99 299.9,100.18 300.4,100.09 300.9,100.01 301.4,100.03 301.9,99.98 302.4,100.17 302.9,100.01 303.4,100.09 303.9,99.99 304.4,99.83 304.9,100.19 305.4,99.89 305.9,100.15 306.4,100.11 306.9,99.80 307.4,99.91 307.9,99.97 308.4,99.93 308.9,99.87 309.4,100.16 309.9,100.01 310.4,100.11 310.9,99.99 311.4,100.10 311.9,99.94 312.4,100.39 312.9,102.17 313.4,103.72 313.9,105.21 314.4,106.63 314.9,108.27 315.4,109.70 315.9,110.97 316.4,112.19 316.9,113.65 317.4,115.15 317.9,115.90 318.4,117.12 318.9,118.22 319.4,118.82 319.9,120.23 320.4,121.08 320.9,122.33 321.4,122.99 321.9,123.78 322.4,124.70 322.9,125.57 323.4,126.24 323.9,127.07 324.4,127.60 324.9,128.47 325.4,129.29 325.9,130.12 326.4,130.55 326.9,131.09 327.4,131.81 327.9,132.35 328.4,132.98 328.9,133.42 329.4,133.74 329.9,134.28 330.4,134.73 330.9,135.20 331.4,135.62 331.9,135.89 332.4,136.09 332.9,136.69 333.4,136.86 333.9,137.54 334.4,137.88 334.9,137.96 335.4,138.64 335.9,138.97 336.4,139.16 336.9,139.68 337.4,139.99 337.9,139.80 338.4,140.39 338.9,140.55 339.4,140.79 339.9,141.10 340.4,141.08 340.9,141.31 341.4,141.48 341.9,141.69 342.4,141.99 342.9,141.97 343.4,142.21 343.9,142.62 344.4,142.69 344.9,142.92 345.4,142.74 345.9,143.05 346.4,143.23 346.9,143.46 347.4,143.50 347.9,143.85 348.4,143.83 348.9,143.96 349.4,144.07 349.9,144.29 350.4,144.22 350.9,144.56 351.4,144.56 351.9,144.61 352.4,144.69 352.9,144.85 353.4,145.01 353.9,145.08 354.4,145.08 354.9,145.23 355.4,145.19 355.9,145.43 356.4,145.31 356.9,145.07 357.4,145.64 357.9,145.52 358.4,145.39 358.9,145.59 359.4,145.54 359.9,146.04 360.4,145.85 360.9,145.59 361.4,145.96 361.9,145.86 362.4,146.25 362.9,145.85 363.4,145.71 363.9,146.10 364.4,146.08 364.9,146.10 365.4,145.88 365.9,146.30 366.4,146.52 366.9,146.01 367.4,146.51 367.9,146.27 368.4,146.74 368.9,146.48 369.4,146.41 369.9,146.63 370.4,146.57 370.9,146.43 371.4,146.65 371.9,146.48 372.4,146.31 372.9,146.91 373.4,146.57 373.9,146.55 374.4,146.71 374.9,146.44 375.4,146.49 375.9,146.64 376.4,146.65 376.9,146.75 377.4,146.93 377.9,146.70 378.4,146.86 378.9,146.89 379.4,146.65 379.9,146.86 380.4,146.69 380.9,147.01 381.4,146.93 381.9,146.87 382.4,146.68 382.9,146.91 383.4,146.78 383.9,147.01 384.4,146.90 384.9,146.80 385.4,147.07 385.9,147.05 386.4,146.86 386.9,147.13 387.4,146.92 387.9,146.92 388.4,146.99 388.9,146.87 389.4,146.92 389.9,146.97 390.4,147.23 390.9,147.23 391.4,146.97 391.9,147.26 392.4,147.01 392.9,147.08 393.4,147.16 393.9,147.08 394.4,147.40 394.9,147.08 395.4,146.87 395.9,147.25 396.4,146.99 396.9,147.01 397.4,146.61 397.9,147.21 398.4,147.19 398.9,147.19 399.4,147.22 399.9,147.33 400.4,147.07 400.9,147.22 401.4,146.97 401.9,147.03 402.4,147.25 402.9,147.15 403.4,146.89 403.9,147.15 404.4,147.07 404.9,146.98 405.4,147.17 405.9,147.04 406.4,146.87 406.9,146.94 407.4,147.37 407.9,146.88 408.4,147.14 408.9,147.20 409.4,147.21 409.9,146.93 410.4,147.07 410.9,147.14 411.4,147.24 411.9,147.02 412.4,146.95 412.9,147.27 413.4,147.29 413.9,147.18 414.4,147.03 414.9,147.19 415.4,147.14 415.9,147.25 416.4,146.94 416.9,147.15 417.4,147.11 417.9,146.96 418.4,147.16 418.9,147.14 419.4,147.07 419.9,147.19 420.4,146.92 420.9,147.13 421.4,147.20 421.9,147.18 422.4,147.30 422.9,146.96 423.4,146.91 423.9,147.17 424.4,147.21 424.9,147.46 425.4,147.23 425.9,147.01 426.4,147.26 426.9,147.01 427.4,146.92 427.9,147.53 428.4,147.19 428.9,147.25 429.4,147.23 429.9,147.41 430.4,147.18 430.9,147.32 431.4,146.99 431.9,146.93 432.4,147.36 432.9,147.36 433.4,147.22 433.9,147.18 434.4,147.17 434.9,147.04 435.4,147.38 435.9,147.24 436.4,147.22 436.9,147.20 437.4,147.30 437.9,147.22 438.4,147.26 438.9,146.97 439.4,147.22 439.9,147.47 440.4,147.07 440.9,147.13 441.4,147.28 441.9,147.29 442.4,147.24 442.9,146.90 443.4,147.22 443.9,146.97 444.4,147.02 444.9,147.23 445.4,147.10 445.9,147.27 446.4,147.62 446.9,147.26 447.4,147.26 447.9,147.01 448.4,147.05 448.9,146.99 449.4,147.07 449.9,146.98 450.4,147.05 450.9,147.12 451.4,147.00 451.9,146.94 452.4,146.94 452.9,147.22 453.4,147.16 453.9,147.30 454.4,147.31 454.9,147.10 455.4,147.25 455.9,146.93 456.4,147.49 456.9,147.33 457.4,147.12 457.9,146.97 458.4,147.21 458.9,146.87 459.4,147.03 459.9,147.26 460.4,147.16 460.9,147.08 461.4,147.29 461.9,146.99 462.4,147.19 462.9,147.07 463.4,147.02 463.9,147.22 464.4,147.00 464.9,147.43 465.4,147.06 465.9,147.45 466.4,146.99 466.9,147.24 467.4,146.97 467.9,146.95 468.4,147.17 468.9,147.25 469.4,146.96 469.9,147.33 470.4,147.03 470.9,147.17 471.4,147.21 471.9,147.24 472.4,146.88 472.9,147.39 473.4,147.23 473.9,147.09 474.4,147.00 474.9,146.90 475.4,146.95 475.9,147.23 476.4,147.10 476.9,146.98 477.4,147.07 477.9,147.38 478.4,147.10 478.9,147.06 479.4,147.35 479.9,147.22 480.4,147.16 480.9,147.06 481.4,146.92 481.9,146.97 482.4,147.08 482.9,147.12 483.4,147.20 483.9,147.23 484.4,147.18 484.9,147.18 485.4,147.00 485.9,146.83 486.4,147.07 486.9,147.01 487.4,147.05 487.9,147.11 488.4,146.96 488.9,146.98 489.4,147.13 489.9,147.17 490.4,147.05 490.9,147.22 491.4,147.12 491.9,147.00 492.4,147.16 492.9,147.43 493.4,147.05 493.9,147.32 494.4,147.36 494.9,147.37 495.4,147.03 495.9,147.45 496.4,147.17 496.9,147.11 497.4,147.12 497.9,147.24 498.4,147.16 498.9,147.12 499.4,147.34 499.9,147.04 500.4,146.99 500.9,147.27 501.4,147.26 501.9,147.31 502.4,146.99 502.9,147.31 503.4,147.22 503.9,147.41 504.4,146.96 504.9,147.18 505.4,147.11 505.9,146.91 506.4,147.04 506.9,147.32 507.4,147.08 507.9,147.04 508.4,147.28 508.9,147.30 509.4,147.30 509.9,147.03 510.4,147.14 510.9,147.30 511.4,147.05 511.9,147.04 512.4,147.27 512.9,147.38 513.4,146.98 513.9,146.76 514.4,146.93 514.9,147.00 515.4,147.13 515.9,147.24 516.4,147.13 516.9,147.04 517.4,147.17 517.9,147.01 518.4,147.14 518.9,147.05 519.4,147.55 519.9,147.27 520.4,147.02 520.9,147.00 521.4,147.08 521.9,146.90 522.4,147.04 522.9,147.04 523.4,147.28 523.9,147.09 524.4,147.03 524.9,146.95 525.4,146.97 525.9,147.14 526.4,147.12 526.9,147.32 527.4,147.06 527.9,147.31 528.4,147.19 528.9,147.15 529.4,146.85 529.9,146.96 530.4,147.26 530.9,147.36 531.4,147.18 531.9,147.26 532.4,147.09 532.9,147.09 533.4,147.05 533.9,147.30 534.4,147.20 534.9,147.11 535.4,147.10 535.9,147.23 536.4,147.20 536.9,147.03 537.4,147.41 537.9,147.19 538.4,147.15 538.9,147.37 539.4,147.30 539.9,147.14 540.4,147.23 540.9,146.99" fill="none" stroke="#FF4A10" stroke-width="2.3" stroke-linejoin="round" /><polyline points="58.9,127.74 59.4,126.79 59.9,126.37 60.4,125.32 60.9,124.87 61.4,124.06 61.9,123.42 62.4,122.92 62.9,122.42 63.4,121.93 63.9,121.55 64.4,120.92 64.9,120.51 65.4,119.90 65.9,119.59 66.4,119.09 66.9,118.59 67.4,118.18 67.9,117.75 68.4,117.33 68.9,116.93 69.4,116.42 69.9,115.99 70.4,115.75 70.9,115.14 71.4,114.91 71.9,114.81 72.4,114.10 72.9,114.02 73.4,113.89 73.9,113.39 74.4,113.57 74.9,112.80 75.4,112.97 75.9,112.76 76.4,112.47 76.9,112.15 77.4,112.00 77.9,111.68 78.4,111.65 78.9,111.28 79.4,111.18 79.9,111.13 80.4,110.75 80.9,110.66 81.4,110.55 81.9,110.24 82.4,110.33 82.9,110.10 83.4,109.76 83.9,109.76 84.4,109.54 84.9,109.42 85.4,109.35 85.9,109.14 86.4,109.18 86.9,108.89 87.4,108.94 87.9,108.73 88.4,108.71 88.9,108.46 89.4,108.36 89.9,108.20 90.4,108.28 90.9,108.23 91.4,108.26 91.9,108.09 92.4,107.91 92.9,107.78 93.4,107.76 93.9,107.64 94.4,107.72 94.9,107.59 95.4,107.35 95.9,107.29 96.4,107.44 96.9,107.27 97.4,107.15 97.9,107.24 98.4,107.02 98.9,106.98 99.4,106.91 99.9,106.71 100.4,106.95 100.9,106.70 101.4,106.72 101.9,106.65 102.4,106.76 102.9,106.64 103.4,106.61 103.9,106.40 104.4,106.52 104.9,106.34 105.4,106.49 105.9,106.46 106.4,106.39 106.9,106.56 107.4,106.38 107.9,106.36 108.4,106.29 108.9,106.23 109.4,106.32 109.9,106.31 110.4,106.05 110.9,106.27 111.4,106.20 111.9,106.22 112.4,106.15 112.9,105.96 113.4,105.95 113.9,106.23 114.4,106.05 114.9,105.87 115.4,106.03 115.9,105.94 116.4,105.78 116.9,105.71 117.4,105.77 117.9,105.94 118.4,105.89 118.9,105.86 119.4,105.90 119.9,105.92 120.4,105.64 120.9,105.81 121.4,105.75 121.9,105.70 122.4,105.76 122.9,105.80 123.4,105.78 123.9,105.66 124.4,105.75 124.9,106.00 125.4,105.70 125.9,105.63 126.4,105.84 126.9,105.87 127.4,105.87 127.9,105.72 128.4,105.95 128.9,105.78 129.4,105.76 129.9,105.83 130.4,105.90 130.9,106.00 131.4,106.01 131.9,105.97 132.4,106.09 132.9,106.02 133.4,106.13 133.9,105.93 134.4,105.93 134.9,106.20 135.4,106.01 135.9,106.14 136.4,106.19 136.9,106.18 137.4,106.21 137.9,106.42 138.4,106.06 138.9,106.43 139.4,106.60 139.9,106.40 140.4,106.42 140.9,106.52 141.4,106.67 141.9,106.40 142.4,106.56 142.9,106.57 143.4,106.68 143.9,106.67 144.4,106.76 144.9,106.69 145.4,106.78 145.9,106.75 146.4,106.80 146.9,106.89 147.4,106.94 147.9,106.88 148.4,107.20 148.9,107.08 149.4,107.00 149.9,107.30 150.4,107.16 150.9,107.33 151.4,107.33 151.9,107.41 152.4,107.45 152.9,107.43 153.4,107.54 153.9,107.79 154.4,107.41 154.9,107.70 155.4,107.78 155.9,107.69 156.4,107.71 156.9,108.11 157.4,107.91 157.9,108.21 158.4,108.10 158.9,108.11 159.4,108.20 159.9,108.27 160.4,108.38 160.9,108.36 161.4,108.39 161.9,108.45 162.4,108.63 162.9,108.63 163.4,108.51 163.9,108.61 164.4,108.77 164.9,108.74 165.4,108.84 165.9,108.85 166.4,108.99 166.9,109.13 167.4,109.26 167.9,109.24 168.4,109.53 168.9,109.40 169.4,109.81 169.9,109.68 170.4,109.72 170.9,109.72 171.4,109.60 171.9,109.97 172.4,110.12 172.9,110.42 173.4,110.22 173.9,110.68 174.4,110.60 174.9,110.84 175.4,110.66 175.9,111.08 176.4,111.19 176.9,111.45 177.4,111.56 177.9,111.60 178.4,111.98 178.9,112.13 179.4,112.30 179.9,112.52 180.4,112.71 180.9,112.79 181.4,112.84 181.9,113.03 182.4,113.50 182.9,113.63 183.4,113.77 183.9,113.93 184.4,114.19 184.9,114.42 185.4,114.61 185.9,114.82 186.4,115.35 186.9,115.42 187.4,115.59 187.9,115.79 188.4,116.12 188.9,116.54 189.4,116.83 189.9,117.02 190.4,117.34 190.9,117.59 191.4,117.81 191.9,118.35 192.4,118.56 192.9,119.07 193.4,119.05 193.9,119.42 194.4,119.82 194.9,120.01 195.4,120.21 195.9,120.56 196.4,120.98 196.9,121.32 197.4,121.60 197.9,122.04 198.4,122.37 198.9,122.63 199.4,122.94 199.9,123.26 200.4,123.68 200.9,124.06 201.4,124.33 201.9,124.72 202.4,125.00 202.9,125.25 203.4,125.65 203.9,126.19 204.4,126.52 204.9,127.00 205.4,127.21 205.9,127.66 206.4,128.07 206.9,128.41 207.4,128.62 207.9,129.04 208.4,129.44 208.9,129.70 209.4,130.23 209.9,130.68 210.4,130.94 210.9,131.59 211.4,131.78 211.9,132.21 212.4,132.63 212.9,133.01 213.4,133.55 213.9,133.95 214.4,134.54 214.9,134.87 215.4,135.29 215.9,135.64 216.4,135.95 216.9,136.50 217.4,136.84 217.9,137.42 218.4,137.72 218.9,138.29 219.4,138.57 219.9,138.96 220.4,139.26 220.9,139.60 221.4,139.98 221.9,140.33 222.4,140.48 222.9,140.90 223.4,141.41 223.9,141.44 224.4,141.71 224.9,141.95 225.4,142.16 225.9,142.70 226.4,142.86 226.9,143.16 227.4,143.58 227.9,143.90 228.4,143.82 228.9,144.27 229.4,144.47 229.9,144.69 230.4,144.94 230.9,145.13 231.4,145.52 231.9,145.66 232.4,145.86 232.9,146.17 233.4,146.35 233.9,146.52 234.4,146.72 234.9,147.07 235.4,147.15 235.9,147.29 236.4,147.41 236.9,147.66 237.4,147.78 237.9,148.08 238.4,148.28 238.9,148.23 239.4,148.61 239.9,148.85 240.4,148.97 240.9,149.03 241.4,149.42 241.9,149.38 242.4,149.49 242.9,149.66 243.4,149.92 243.9,150.17 244.4,150.34 244.9,150.39 245.4,150.40 245.9,150.59 246.4,150.71 246.9,150.93 247.4,150.91 247.9,151.23 248.4,151.42 248.9,151.48 249.4,151.67 249.9,151.66 250.4,151.73 250.9,151.94 251.4,152.24 251.9,152.35 252.4,152.31 252.9,152.59 253.4,152.55 253.9,152.84 254.4,152.83 254.9,152.84 255.4,153.05 255.9,152.99 256.4,153.06 256.9,153.10 257.4,153.36 257.9,153.41 258.4,153.50 258.9,153.54 259.4,153.81 259.9,153.70 260.4,153.75 260.9,154.02 261.4,154.11 261.9,154.07 262.4,153.92 262.9,154.10 263.4,154.28 263.9,154.28 264.4,154.49 264.9,154.25 265.4,154.51 265.9,154.43 266.4,154.67 266.9,154.58 267.4,154.73 267.9,154.61 268.4,154.58 268.9,154.65 269.4,154.75 269.9,154.74 270.4,155.01 270.9,155.06 271.4,154.99 271.9,154.90 272.4,155.03 272.9,155.01 273.4,155.26 273.9,155.18 274.4,155.23 274.9,155.17 275.4,155.04 275.9,155.20 276.4,155.19 276.9,155.37 277.4,155.37 277.9,155.31 278.4,155.38 278.9,155.60 279.4,155.37 279.9,155.40 280.4,155.50 280.9,155.47 281.4,155.52 281.9,155.64 282.4,155.78 282.9,155.45 283.4,155.65 283.9,155.67 284.4,155.68 284.9,155.69 285.4,155.69 285.9,155.85 286.4,155.72 286.9,155.77 287.4,155.80 287.9,155.83 288.4,155.82 288.9,155.95 289.4,155.87 289.9,155.90 290.4,155.89 290.9,155.81 291.4,155.85 291.9,155.84 292.4,155.98 292.9,155.91 293.4,155.89 293.9,156.03 294.4,156.07 294.9,155.86 295.4,156.22 295.9,156.07 296.4,156.07 296.9,156.21 297.4,156.12 297.9,156.07 298.4,156.37 298.9,156.06 299.4,156.17 299.9,156.28 300.4,156.11 300.9,156.22 301.4,156.28 301.9,156.49 302.4,156.18 302.9,156.27 303.4,156.35 303.9,156.31 304.4,156.19 304.9,156.36 305.4,156.34 305.9,156.38 306.4,156.46 306.9,156.46 307.4,156.42 307.9,156.42 308.4,156.30 308.9,156.41 309.4,156.47 309.9,156.43 310.4,156.50 310.9,156.44 311.4,156.70 311.9,156.79 312.4,156.58 312.9,156.76 313.4,156.85 313.9,157.26 314.4,157.54 314.9,157.96 315.4,158.44 315.9,159.04 316.4,159.50 316.9,160.25 317.4,160.77 317.9,161.76 318.4,162.70 318.9,163.78 319.4,164.58 319.9,165.40 320.4,165.63 320.9,165.84 321.4,165.59 321.9,165.30 322.4,164.85 322.9,164.43 323.4,163.61 323.9,163.33 324.4,162.63 324.9,162.31 325.4,161.34 325.9,160.79 326.4,160.09 326.9,159.86 327.4,159.08 327.9,158.76 328.4,158.26 328.9,157.74 329.4,157.53 329.9,157.32 330.4,156.93 330.9,156.74 331.4,156.33 331.9,156.09 332.4,155.80 332.9,155.62 333.4,155.54 333.9,155.17 334.4,154.95 334.9,154.69 335.4,154.50 335.9,154.57 336.4,154.18 336.9,154.07 337.4,154.02 337.9,153.87 338.4,153.99 338.9,153.44 339.4,153.61 339.9,153.54 340.4,153.25 340.9,153.20 341.4,153.22 341.9,153.25 342.4,152.91 342.9,152.76 343.4,152.93 343.9,152.91 344.4,152.65 344.9,152.39 345.4,152.68 345.9,152.45 346.4,152.51 346.9,152.33 347.4,152.24 347.9,152.17 348.4,152.30 348.9,152.24 349.4,151.82 349.9,151.89 350.4,152.11 350.9,151.84 351.4,151.70 351.9,151.78 352.4,151.73 352.9,151.68 353.4,151.60 353.9,151.58 354.4,151.52 354.9,151.56 355.4,151.40 355.9,151.41 356.4,151.38 356.9,151.49 357.4,151.36 357.9,151.27 358.4,151.29 358.9,151.23 359.4,151.26 359.9,151.16 360.4,151.24 360.9,151.16 361.4,150.97 361.9,150.89 362.4,150.97 362.9,150.89 363.4,150.79 363.9,150.60 364.4,150.52 364.9,150.70 365.4,150.69 365.9,150.65 366.4,150.40 366.9,150.59 367.4,150.39 367.9,150.44 368.4,150.40 368.9,150.24 369.4,150.22 369.9,150.04 370.4,150.12 370.9,149.99 371.4,150.18 371.9,150.11 372.4,150.17 372.9,150.08 373.4,149.95 373.9,150.02 374.4,149.91 374.9,149.99 375.4,149.93 375.9,149.77 376.4,149.84 376.9,149.82 377.4,149.76 377.9,149.85 378.4,149.90 378.9,149.67 379.4,149.65 379.9,149.43 380.4,149.62 380.9,149.56 381.4,149.37 381.9,149.59 382.4,149.60 382.9,149.44 383.4,149.45 383.9,149.37 384.4,149.52 384.9,149.27 385.4,149.37 385.9,149.57 386.4,149.36 386.9,149.38 387.4,149.30 387.9,149.17 388.4,149.27 388.9,149.29 389.4,149.12 389.9,149.24 390.4,149.31 390.9,149.27 391.4,148.98 391.9,149.02 392.4,148.93 392.9,149.18 393.4,149.11 393.9,149.10 394.4,148.92 394.9,148.87 395.4,148.97 395.9,148.95 396.4,148.84 396.9,148.91 397.4,148.94 397.9,148.88 398.4,148.73 398.9,148.60 399.4,148.77 399.9,148.79 400.4,148.72 400.9,148.69 401.4,148.64 401.9,148.76 402.4,148.66 402.9,148.66 403.4,148.53 403.9,148.54 404.4,148.60 404.9,148.46 405.4,148.42 405.9,148.49 406.4,148.63 406.9,148.51 407.4,148.61 407.9,148.44 408.4,148.40 408.9,148.27 409.4,148.34 409.9,148.52 410.4,148.39 410.9,148.42 411.4,148.40 411.9,148.31 412.4,148.27 412.9,148.29 413.4,148.33 413.9,148.30 414.4,148.28 414.9,148.24 415.4,148.13 415.9,148.17 416.4,148.09 416.9,148.27 417.4,147.95 417.9,148.12 418.4,148.37 418.9,148.09 419.4,148.00 419.9,148.10 420.4,148.22 420.9,148.07 421.4,148.13 421.9,148.07 422.4,148.02 422.9,148.36 423.4,148.04 423.9,147.97 424.4,147.97 424.9,148.05 425.4,148.04 425.9,148.07 426.4,148.00 426.9,147.83 427.4,148.02 427.9,147.93 428.4,147.92 428.9,147.80 429.4,147.88 429.9,147.85 430.4,147.92 430.9,147.77 431.4,147.91 431.9,147.91 432.4,147.78 432.9,147.82 433.4,147.79 433.9,147.96 434.4,147.61 434.9,147.82 435.4,147.68 435.9,147.80 436.4,147.92 436.9,147.76 437.4,147.83 437.9,147.73 438.4,148.00 438.9,147.89 439.4,147.91 439.9,147.65 440.4,147.67 440.9,147.88 441.4,147.75 441.9,147.74 442.4,147.79 442.9,147.62 443.4,147.82 443.9,147.74 444.4,147.78 444.9,147.66 445.4,147.77 445.9,147.65 446.4,147.81 446.9,147.82 447.4,147.79 447.9,147.75 448.4,147.76 448.9,147.42 449.4,147.77 449.9,147.65 450.4,147.68 450.9,147.64 451.4,147.52 451.9,147.61 452.4,147.72 452.9,147.79 453.4,147.58 453.9,147.55 454.4,147.78 454.9,147.55 455.4,147.84 455.9,147.63 456.4,147.54 456.9,147.72 457.4,147.79 457.9,147.47 458.4,147.77 458.9,147.58 459.4,147.75 459.9,147.56 460.4,147.44 460.9,147.64 461.4,147.68 461.9,147.80 462.4,147.76 462.9,147.65 463.4,147.56 463.9,147.52 464.4,147.54 464.9,147.49 465.4,147.54 465.9,147.31 466.4,147.58 466.9,147.56 467.4,147.81 467.9,147.63 468.4,147.50 468.9,147.60 469.4,147.42 469.9,147.48 470.4,147.35 470.9,147.68 471.4,147.59 471.9,147.41 472.4,147.52 472.9,147.62 473.4,147.57 473.9,147.56 474.4,147.43 474.9,147.45 475.4,147.52 475.9,147.60 476.4,147.42 476.9,147.39 477.4,147.61 477.9,147.40 478.4,147.60 478.9,147.52 479.4,147.58 479.9,147.66 480.4,147.55 480.9,147.56 481.4,147.39 481.9,147.41 482.4,147.54 482.9,147.62 483.4,147.61 483.9,147.70 484.4,147.49 484.9,147.48 485.4,147.56 485.9,147.46 486.4,147.45 486.9,147.34 487.4,147.55 487.9,147.34 488.4,147.49 488.9,147.30 489.4,147.55 489.9,147.33 490.4,147.52 490.9,147.27 491.4,147.38 491.9,147.54 492.4,147.34 492.9,147.43 493.4,147.37 493.9,147.19 494.4,147.45 494.9,147.46 495.4,147.30 495.9,147.47 496.4,147.33 496.9,147.30 497.4,147.40 497.9,147.33 498.4,147.63 498.9,147.24 499.4,147.47 499.9,147.49 500.4,147.19 500.9,147.21 501.4,147.44 501.9,147.33 502.4,147.42 502.9,147.49 503.4,147.34 503.9,147.27 504.4,147.10 504.9,147.39 505.4,147.28 505.9,147.40 506.4,147.39 506.9,147.23 507.4,147.53 507.9,147.47 508.4,147.44 508.9,147.24 509.4,147.31 509.9,147.30 510.4,147.31 510.9,147.24 511.4,147.39 511.9,147.37 512.4,147.38 512.9,147.29 513.4,147.47 513.9,147.36 514.4,147.07 514.9,147.27 515.4,147.33 515.9,147.43 516.4,147.30 516.9,147.31 517.4,147.27 517.9,147.40 518.4,147.28 518.9,147.27 519.4,147.25 519.9,147.38 520.4,147.27 520.9,147.16 521.4,147.38 521.9,147.25 522.4,147.36 522.9,147.36 523.4,147.44 523.9,147.42 524.4,147.26 524.9,147.30 525.4,147.19 525.9,147.48 526.4,147.36 526.9,147.45 527.4,147.28 527.9,147.11 528.4,147.46 528.9,147.32 529.4,147.32 529.9,147.31 530.4,147.37 530.9,147.36 531.4,147.15 531.9,147.41 532.4,147.25 532.9,147.26 533.4,147.48 533.9,147.40 534.4,147.27 534.9,147.12 535.4,147.32 535.9,147.36 536.4,147.29 536.9,147.18 537.4,147.22 537.9,147.18 538.4,147.32 538.9,147.38 539.4,147.40 539.9,147.23 540.4,147.32 540.9,147.36" fill="none" stroke="#FFAE00" stroke-width="2.6" stroke-linejoin="round" /></g><g clip-path="url(#c3)"><polyline points="58.9,186.54 59.4,186.73 59.9,187.86 60.4,186.90 60.9,187.24 61.4,186.59 61.9,186.82 62.4,185.95 62.9,186.79 63.4,187.40 63.9,187.86 64.4,187.40 64.9,187.15 65.4,186.83 65.9,186.51 66.4,186.73 66.9,187.12 67.4,186.42 67.9,187.28 68.4,186.32 68.9,185.92 69.4,186.31 69.9,185.98 70.4,186.13 70.9,187.38 71.4,186.71 71.9,186.92 72.4,187.39 72.9,187.45 73.4,186.56 73.9,187.48 74.4,187.01 74.9,186.82 75.4,187.04 75.9,186.11 76.4,186.43 76.9,186.77 77.4,187.13 77.9,186.64 78.4,186.76 78.9,187.31 79.4,187.53 79.9,187.21 80.4,187.46 80.9,186.62 81.4,186.67 81.9,186.99 82.4,186.68 82.9,186.57 83.4,187.65 83.9,186.73 84.4,186.35 84.9,187.07 85.4,187.75 85.9,186.87 86.4,187.45 86.9,186.61 87.4,186.59 87.9,186.49 88.4,186.76 88.9,187.75 89.4,186.26 89.9,187.65 90.4,186.33 90.9,186.72 91.4,187.25 91.9,187.15 92.4,186.98 92.9,186.01 93.4,187.02 93.9,186.33 94.4,188.12 94.9,186.73 95.4,186.94 95.9,186.27 96.4,186.60 96.9,186.20 97.4,187.33 97.9,186.71 98.4,187.13 98.9,186.50 99.4,186.59 99.9,187.49 100.4,186.36 100.9,185.95 101.4,187.05 101.9,186.28 102.4,186.63 102.9,187.31 103.4,186.44 103.9,187.29 104.4,186.51 104.9,187.60 105.4,187.51 105.9,186.62 106.4,186.75 106.9,186.44 107.4,186.95 107.9,187.43 108.4,186.13 108.9,187.31 109.4,186.19 109.9,186.43 110.4,185.96 110.9,187.91 111.4,186.89 111.9,186.98 112.4,186.52 112.9,187.39 113.4,185.81 113.9,186.87 114.4,187.97 114.9,186.67 115.4,186.87 115.9,187.20 116.4,186.46 116.9,186.88 117.4,187.35 117.9,186.96 118.4,187.05 118.9,186.69 119.4,187.03 119.9,186.90 120.4,187.60 120.9,187.23 121.4,186.75 121.9,185.65 122.4,187.23 122.9,187.25 123.4,186.41 123.9,185.87 124.4,186.30 124.9,187.34 125.4,186.34 125.9,186.64 126.4,186.99 126.9,187.49 127.4,186.87 127.9,186.83 128.4,186.60 128.9,187.69 129.4,187.41 129.9,186.83 130.4,186.18 130.9,186.48 131.4,187.17 131.9,186.52 132.4,187.33 132.9,187.06 133.4,187.03 133.9,187.21 134.4,187.13 134.9,186.46 135.4,186.72 135.9,188.06 136.4,186.28 136.9,186.65 137.4,187.42 137.9,186.81 138.4,186.48 138.9,186.23 139.4,187.16 139.9,187.40 140.4,187.59 140.9,186.92 141.4,187.41 141.9,186.38 142.4,186.98 142.9,186.55 143.4,186.98 143.9,187.27 144.4,187.43 144.9,186.40 145.4,187.53 145.9,186.66 146.4,186.38 146.9,186.81 147.4,186.17 147.9,186.90 148.4,187.04 148.9,186.80 149.4,187.17 149.9,186.74 150.4,186.90 150.9,186.18 151.4,186.92 151.9,186.48 152.4,186.68 152.9,186.86 153.4,187.00 153.9,186.08 154.4,186.12 154.9,186.75 155.4,187.14 155.9,187.09 156.4,187.35 156.9,187.56 157.4,187.16 157.9,186.90 158.4,186.39 158.9,186.44 159.4,186.68 159.9,187.04 160.4,187.02 160.9,186.91 161.4,186.84 161.9,187.23 162.4,187.02 162.9,187.06 163.4,187.07 163.9,186.64 164.4,186.40 164.9,187.16 165.4,187.13 165.9,186.81 166.4,186.71 166.9,188.06 167.4,186.54 167.9,186.81 168.4,187.05 168.9,186.35 169.4,186.98 169.9,187.82 170.4,187.39 170.9,187.24 171.4,187.22 171.9,186.98 172.4,187.41 172.9,186.85 173.4,186.72 173.9,186.98 174.4,187.38 174.9,187.10 175.4,187.27 175.9,185.92 176.4,187.53 176.9,188.10 177.4,187.60 177.9,186.78 178.4,186.51 178.9,187.07 179.4,186.44 179.9,187.30 180.4,186.67 180.9,187.42 181.4,187.62 181.9,185.92 182.4,187.09 182.9,186.59 183.4,186.24 183.9,186.63 184.4,186.83 184.9,187.46 185.4,186.18 185.9,187.47 186.4,187.95 186.9,187.24 187.4,187.22 187.9,186.94 188.4,186.36 188.9,187.22 189.4,187.14 189.9,187.32 190.4,188.24 190.9,187.32 191.4,187.16 191.9,187.73 192.4,186.28 192.9,186.38 193.4,186.77 193.9,186.63 194.4,187.30 194.9,186.80 195.4,187.83 195.9,187.72 196.4,187.34 196.9,186.77 197.4,187.27 197.9,187.37 198.4,186.43 198.9,187.14 199.4,187.32 199.9,187.07 200.4,187.75 200.9,187.57 201.4,186.55 201.9,187.03 202.4,186.55 202.9,187.26 203.4,186.53 203.9,187.43 204.4,187.16 204.9,187.45 205.4,186.90 205.9,186.24 206.4,187.85 206.9,186.89 207.4,187.66 207.9,187.19 208.4,187.31 208.9,187.89 209.4,187.14 209.9,187.67 210.4,186.23 210.9,187.41 211.4,186.86 211.9,186.91 212.4,186.98 212.9,187.15 213.4,187.81 213.9,186.05 214.4,187.00 214.9,186.62 215.4,187.56 215.9,186.77 216.4,187.21 216.9,186.78 217.4,187.32 217.9,187.49 218.4,186.78 218.9,187.01 219.4,186.27 219.9,187.14 220.4,187.41 220.9,186.71 221.4,187.55 221.9,185.95 222.4,186.06 222.9,186.29 223.4,186.75 223.9,187.00 224.4,186.95 224.9,186.96 225.4,187.35 225.9,186.75 226.4,186.36 226.9,186.37 227.4,188.05 227.9,185.82 228.4,186.90 228.9,187.72 229.4,187.23 229.9,186.58 230.4,186.99 230.9,187.43 231.4,187.60 231.9,186.54 232.4,187.37 232.9,187.12 233.4,187.55 233.9,187.69 234.4,186.82 234.9,186.27 235.4,187.19 235.9,187.88 236.4,187.34 236.9,187.11 237.4,188.20 237.9,186.48 238.4,187.45 238.9,186.71 239.4,187.02 239.9,187.04 240.4,187.76 240.9,186.53 241.4,186.73 241.9,186.20 242.4,187.24 242.9,186.77 243.4,187.21 243.9,186.46 244.4,186.82 244.9,187.52 245.4,186.91 245.9,187.31 246.4,187.26 246.9,186.82 247.4,186.22 247.9,187.49 248.4,187.09 248.9,187.49 249.4,185.99 249.9,186.17 250.4,185.93 250.9,186.56 251.4,187.52 251.9,187.28 252.4,186.98 252.9,187.06 253.4,187.38 253.9,186.84 254.4,187.19 254.9,187.06 255.4,185.90 255.9,186.79 256.4,187.66 256.9,186.78 257.4,186.91 257.9,186.67 258.4,186.73 258.9,187.53 259.4,186.83 259.9,186.45 260.4,185.40 260.9,186.67 261.4,185.97 261.9,186.03 262.4,187.34 262.9,187.29 263.4,185.97 263.9,187.35 264.4,187.15 264.9,186.52 265.4,187.28 265.9,186.09 266.4,186.29 266.9,186.17 267.4,186.33 267.9,187.32 268.4,186.20 268.9,186.29 269.4,186.38 269.9,186.95 270.4,186.67 270.9,187.26 271.4,186.47 271.9,186.17 272.4,186.56 272.9,186.82 273.4,186.32 273.9,186.92 274.4,187.68 274.9,186.47 275.4,186.77 275.9,187.42 276.4,186.41 276.9,186.30 277.4,186.16 277.9,186.90 278.4,186.94 278.9,186.60 279.4,186.68 279.9,187.29 280.4,187.07 280.9,185.93 281.4,186.61 281.9,186.66 282.4,186.95 282.9,186.47 283.4,186.24 283.9,186.32 284.4,185.65 284.9,186.51 285.4,186.22 285.9,186.73 286.4,185.97 286.9,186.25 287.4,185.97 287.9,185.91 288.4,186.78 288.9,186.18 289.4,186.62 289.9,185.83 290.4,186.42 290.9,185.50 291.4,186.07 291.9,186.02 292.4,186.53 292.9,186.28 293.4,186.05 293.9,186.51 294.4,186.13 294.9,186.25 295.4,186.31 295.9,185.85 296.4,185.68 296.9,185.94 297.4,185.53 297.9,185.89 298.4,186.21 298.9,186.05 299.4,185.41 299.9,184.94 300.4,185.54 300.9,185.49 301.4,186.10 301.9,185.35 302.4,185.43 302.9,185.89 303.4,185.28 303.9,185.44 304.4,186.37 304.9,186.26 305.4,185.82 305.9,185.64 306.4,185.02 306.9,185.78 307.4,185.53 307.9,185.61 308.4,185.23 308.9,185.48 309.4,185.39 309.9,185.63 310.4,186.18 310.9,185.64 311.4,184.62 311.9,184.96 312.4,184.64 312.9,185.02 313.4,185.68 313.9,185.58 314.4,184.44 314.9,183.34 315.4,182.25 315.9,183.27 316.4,184.85 316.9,185.38 317.4,186.57 317.9,185.24 318.4,186.58 318.9,186.66 319.4,185.94 319.9,186.04 320.4,185.78 320.9,186.10 321.4,186.46 321.9,186.15 322.4,186.66 322.9,186.77 323.4,186.36 323.9,186.37 324.4,186.18 324.9,186.40 325.4,185.68 325.9,186.45 326.4,186.36 326.9,185.83 327.4,187.35 327.9,185.81 328.4,185.87 328.9,186.46 329.4,185.38 329.9,185.97 330.4,185.63 330.9,185.94 331.4,186.38 331.9,186.64 332.4,187.06 332.9,186.94 333.4,187.16 333.9,186.89 334.4,186.40 334.9,187.22 335.4,186.45 335.9,186.42 336.4,187.53 336.9,187.19 337.4,186.94 337.9,187.24 338.4,187.34 338.9,186.26 339.4,186.93 339.9,186.43 340.4,187.11 340.9,186.75 341.4,187.80 341.9,187.42 342.4,186.79 342.9,187.23 343.4,186.67 343.9,187.33 344.4,187.62 344.9,187.52 345.4,186.46 345.9,187.29 346.4,187.75 346.9,187.69 347.4,188.15 347.9,186.96 348.4,187.90 348.9,187.35 349.4,187.81 349.9,187.95 350.4,188.12 350.9,187.52 351.4,187.93 351.9,187.29 352.4,187.20 352.9,188.21 353.4,187.94 353.9,187.18 354.4,187.60 354.9,188.06 355.4,188.85 355.9,188.62 356.4,188.52 356.9,187.26 357.4,188.12 357.9,188.43 358.4,188.41 358.9,188.44 359.4,188.13 359.9,189.15 360.4,189.02 360.9,188.25 361.4,187.82 361.9,189.35 362.4,188.06 362.9,188.95 363.4,189.31 363.9,187.90 364.4,188.53 364.9,188.22 365.4,188.65 365.9,188.57 366.4,189.38 366.9,188.71 367.4,188.42 367.9,188.99 368.4,188.30 368.9,188.26 369.4,189.57 369.9,188.04 370.4,188.21 370.9,188.48 371.4,187.93 371.9,187.41 372.4,189.00 372.9,188.08 373.4,188.21 373.9,188.30 374.4,187.99 374.9,187.95 375.4,188.57 375.9,189.70 376.4,188.87 376.9,188.88 377.4,187.76 377.9,188.50 378.4,187.93 378.9,188.91 379.4,188.42 379.9,188.56 380.4,188.50 380.9,188.26 381.4,187.80 381.9,188.86 382.4,187.89 382.9,188.00 383.4,188.45 383.9,188.26 384.4,188.76 384.9,189.14 385.4,188.78 385.9,188.77 386.4,188.70 386.9,189.13 387.4,187.80 387.9,188.92 388.4,188.29 388.9,188.16 389.4,188.80 389.9,188.63 390.4,189.14 390.9,189.42 391.4,187.74 391.9,188.89 392.4,189.94 392.9,189.78 393.4,191.82 393.9,193.91 394.4,198.19 394.9,204.53 395.4,211.32 395.9,216.46 396.4,220.70 396.9,225.59 397.4,229.53 397.9,231.28 398.4,234.51 398.9,237.27 399.4,238.04 399.9,236.17 400.4,235.89 400.9,233.38 401.4,231.52 401.9,229.09 402.4,229.38 402.9,227.66 403.4,228.10 403.9,226.29 404.4,225.50 404.9,223.87 405.4,224.95 405.9,223.49 406.4,223.06 406.9,221.53 407.4,222.64 407.9,222.32 408.4,221.27 408.9,221.39 409.4,221.35 409.9,221.48 410.4,220.95 410.9,221.71 411.4,220.69 411.9,220.48 412.4,220.53 412.9,219.48 413.4,220.32 413.9,221.19 414.4,220.76 414.9,220.11 415.4,220.52 415.9,219.13 416.4,219.74 416.9,219.87 417.4,219.65 417.9,218.60 418.4,219.12 418.9,219.27 419.4,217.79 419.9,218.02 420.4,216.48 420.9,215.84 421.4,216.65 421.9,215.84 422.4,215.33 422.9,214.21 423.4,213.51 423.9,213.13 424.4,212.60 424.9,210.64 425.4,208.95 425.9,209.55 426.4,208.33 426.9,207.21 427.4,204.90 427.9,202.79 428.4,198.36 428.9,194.79 429.4,190.43 429.9,189.42 430.4,188.10 430.9,187.78 431.4,187.93 431.9,187.35 432.4,188.57 432.9,187.14 433.4,187.43 433.9,187.76 434.4,186.99 434.9,187.89 435.4,187.90 435.9,187.42 436.4,188.51 436.9,187.59 437.4,187.68 437.9,187.04 438.4,186.68 438.9,187.19 439.4,187.34 439.9,187.27 440.4,187.88 440.9,186.29 441.4,186.92 441.9,186.57 442.4,188.15 442.9,187.19 443.4,187.22 443.9,186.92 444.4,187.92 444.9,187.27 445.4,187.59 445.9,186.46 446.4,188.07 446.9,187.69 447.4,187.78 447.9,188.14 448.4,187.44 448.9,187.48 449.4,187.95 449.9,187.83 450.4,187.53 450.9,187.71 451.4,187.48 451.9,188.14 452.4,188.31 452.9,187.90 453.4,188.90 453.9,187.57 454.4,189.40 454.9,192.09 455.4,193.03 455.9,194.44 456.4,197.71 456.9,199.17 457.4,200.31 457.9,203.14 458.4,203.62 458.9,204.21 459.4,205.43 459.9,205.78 460.4,205.84 460.9,206.38 461.4,206.09 461.9,206.65 462.4,206.63 462.9,207.04 463.4,206.45 463.9,206.03 464.4,206.05 464.9,206.60 465.4,207.50 465.9,207.17 466.4,206.43 466.9,207.23 467.4,206.18 467.9,207.28 468.4,206.58 468.9,207.16 469.4,207.09 469.9,206.64 470.4,206.94 470.9,206.22 471.4,206.69 471.9,207.24 472.4,208.70 472.9,206.95 473.4,206.58 473.9,205.95 474.4,206.92 474.9,205.48 475.4,205.82 475.9,206.31 476.4,205.44 476.9,206.72 477.4,206.40 477.9,205.47 478.4,205.39 478.9,204.91 479.4,204.78 479.9,205.62 480.4,205.62 480.9,205.39 481.4,205.25 481.9,204.74 482.4,205.10 482.9,204.07 483.4,204.70 483.9,205.33 484.4,205.14 484.9,204.12 485.4,204.07 485.9,204.80 486.4,204.89 486.9,203.12 487.4,203.53 487.9,203.74 488.4,204.11 488.9,202.95 489.4,203.57 489.9,202.97 490.4,204.19 490.9,203.09 491.4,202.69 491.9,202.47 492.4,203.06 492.9,202.76 493.4,201.76 493.9,202.31 494.4,201.42 494.9,201.62 495.4,201.25 495.9,201.14 496.4,201.36 496.9,201.11 497.4,201.77 497.9,201.80 498.4,201.18 498.9,200.64 499.4,201.51 499.9,199.99 500.4,199.95 500.9,201.19 501.4,201.07 501.9,201.15 502.4,200.48 502.9,199.88 503.4,200.19 503.9,200.67 504.4,199.95 504.9,199.93 505.4,199.54 505.9,199.62 506.4,200.59 506.9,200.36 507.4,199.51 507.9,199.52 508.4,199.74 508.9,200.27 509.4,199.38 509.9,199.85 510.4,198.83 510.9,199.25 511.4,200.06 511.9,200.28 512.4,199.22 512.9,199.39 513.4,200.16 513.9,199.54 514.4,199.44 514.9,199.95 515.4,199.77 515.9,200.20 516.4,200.02 516.9,199.32 517.4,199.52 517.9,199.53 518.4,198.86 518.9,199.03 519.4,199.99 519.9,198.69 520.4,199.96 520.9,199.58 521.4,199.35 521.9,199.67 522.4,199.62 522.9,199.97 523.4,199.14 523.9,199.21 524.4,199.18 524.9,200.23 525.4,199.74 525.9,198.78 526.4,199.06 526.9,198.85 527.4,199.19 527.9,199.28 528.4,200.30 528.9,198.22 529.4,199.63 529.9,199.32 530.4,198.73 530.9,198.99 531.4,198.80 531.9,199.06 532.4,199.52 532.9,198.24 533.4,199.64 533.9,198.78 534.4,199.71 534.9,199.14 535.4,199.54 535.9,199.19 536.4,199.44 536.9,198.91 537.4,198.45 537.9,199.19 538.4,199.20 538.9,199.88 539.4,197.81 539.9,198.71 540.4,199.33 540.9,198.16" fill="none" stroke="#0072BD" stroke-width="2.3" stroke-linejoin="round" /><polyline points="58.90,188.18 59.30,189.24 59.70,188.92 60.10,187.89 60.50,188.93 60.90,188.82 61.30,188.64 61.70,188.46 62.10,188.40 62.50,187.90 62.90,188.06 63.30,188.62 63.70,188.35 64.10,189.12 64.50,188.14 64.90,187.21 65.30,188.14 65.70,188.42 66.10,188.46 66.50,188.32 66.90,187.92 67.30,188.97 67.70,187.99 68.10,188.61 68.50,188.16 68.90,187.76 69.30,188.93 69.70,188.66 70.10,187.91 70.50,188.49 70.90,188.14 71.30,188.64 71.70,188.25 72.10,188.09 72.50,189.27 72.90,188.20 73.30,188.83 73.70,187.81 74.10,187.96 74.50,188.59 74.90,188.56 75.30,188.30 75.70,187.99 76.10,188.61 76.50,187.54 76.90,188.15 77.30,188.19 77.70,187.92 78.10,188.38 78.50,188.01 78.90,187.95 79.30,189.85 79.70,188.64 80.10,190.18 80.50,188.33 80.90,188.74 81.30,188.66 81.70,188.86 82.10,189.38 82.50,188.21 82.90,188.43 83.30,188.29 83.70,188.31 84.10,187.69 84.50,188.32 84.90,188.60 85.30,188.06 85.70,188.83 86.10,188.90 86.50,188.70 86.90,188.96 87.30,189.11 87.70,188.53 88.10,187.88 88.50,188.98 88.90,188.25 89.30,188.15 89.70,188.38 90.10,188.08 90.50,188.81 90.90,188.68 91.30,188.88 91.70,188.59 92.10,189.49 92.50,188.26 92.90,188.72 93.30,188.15 93.70,189.64 94.10,188.22 94.50,189.18 94.90,188.85 95.30,188.67 95.70,188.32 96.10,188.23 96.50,188.52 96.90,188.71 97.30,188.68 97.70,188.20 98.10,188.53 98.50,188.71 98.90,188.68 99.30,186.95 99.70,187.94 100.10,187.99 100.50,188.23 100.90,188.42 101.30,188.75 101.70,188.62 102.10,188.28 102.50,188.35 102.90,189.13 103.30,188.06 103.70,188.48 104.10,189.05 104.50,188.50 104.90,187.66 105.30,188.51 105.70,188.17 106.10,188.29 106.50,188.82 106.90,188.56 107.30,188.23 107.70,188.75 108.10,188.54 108.50,188.39 108.90,188.48 109.30,188.46 109.70,188.19 110.10,188.14 110.50,188.36 110.90,187.92 111.30,187.78 111.70,188.94 112.10,188.24 112.50,188.34 112.90,188.29 113.30,189.08 113.70,188.36 114.10,188.38 114.50,187.99 114.90,188.77 115.30,188.04 115.70,188.82 116.10,187.49 116.50,187.88 116.90,188.80 117.30,188.29 117.70,188.06 118.10,188.53 118.50,187.89 118.90,188.39 119.30,187.36 119.70,188.16 120.10,188.07 120.50,188.60 120.90,188.76 121.30,187.98 121.70,189.09 122.10,188.75 122.50,187.44 122.90,187.29 123.30,189.06 123.70,188.33 124.10,188.07 124.50,188.03 124.90,187.87 125.30,188.98 125.70,188.33 126.10,189.17 126.50,188.28 126.90,187.31 127.30,188.75 127.70,188.20 128.10,188.26 128.50,189.08 128.90,189.09 129.30,188.89 129.70,188.37 130.10,188.03 130.50,188.60 130.90,188.10 131.30,188.93 131.70,188.81 132.10,188.40 132.50,188.65 132.90,188.63 133.30,188.25 133.70,188.78 134.10,188.28 134.50,189.93 134.90,187.95 135.30,188.43 135.70,188.57 136.10,188.03 136.50,188.19 136.90,188.14 137.30,188.71 137.70,188.06 138.10,188.58 138.50,189.07 138.90,188.55 139.30,187.66 139.70,188.44 140.10,188.86 140.50,188.26 140.90,188.89 141.30,188.67 141.70,188.58 142.10,188.27 142.50,188.16 142.90,188.28 143.30,188.42 143.70,188.63 144.10,189.11 144.50,188.26 144.90,188.43 145.30,188.57 145.70,187.67 146.10,188.05 146.50,188.04 146.90,188.31 147.30,188.28 147.70,188.29 148.10,188.01 148.50,188.71 148.90,188.53 149.30,187.67 149.70,188.41 150.10,187.90 150.50,189.17 150.90,189.24 151.30,188.23 151.70,188.45 152.10,188.32 152.50,189.45 152.90,189.95 153.30,188.51 153.70,189.77 154.10,188.92 154.50,187.98 154.90,189.91 155.30,188.72 155.70,188.85 156.10,188.03 156.50,188.78 156.90,188.60 157.30,188.18 157.70,189.45 158.10,188.67 158.50,188.31 158.90,188.51 159.30,188.83 159.70,188.93 160.10,189.66 160.50,188.97 160.90,189.09 161.30,187.87 161.70,188.21 162.10,188.00 162.50,188.47 162.90,189.08 163.30,188.72 163.70,187.96 164.10,188.30 164.50,189.63 164.90,188.19 165.30,188.39 165.70,188.57 166.10,187.61 166.50,188.78 166.90,188.59 167.30,190.15 167.70,187.99 168.10,188.09 168.50,188.17 168.90,188.55 169.30,188.47 169.70,188.49 170.10,189.24 170.50,189.03 170.90,188.12 171.30,188.15 171.70,189.21 172.10,188.30 172.50,189.06 172.90,189.16 173.30,188.20 173.70,188.50 174.10,189.86 174.50,189.25 174.90,188.01 175.30,188.27 175.70,188.83 176.10,188.25 176.50,188.35 176.90,188.24 177.30,187.83 177.70,189.12 178.10,187.40 178.50,188.16 178.90,188.70 179.30,187.82 179.70,188.72 180.10,189.02 180.50,188.07 180.90,188.55 181.30,187.96 181.70,188.68 182.10,188.50 182.50,188.55 182.90,189.07 183.30,188.67 183.70,189.06 184.10,188.74 184.50,187.92 184.90,188.58 185.30,188.68 185.70,187.81 186.10,189.06 186.50,188.49 186.90,188.63 187.30,188.06 187.70,188.50 188.10,188.60 188.50,188.32 188.90,188.50 189.30,187.51 189.70,189.08 190.10,187.97 190.50,187.49 190.90,188.04 191.30,188.10 191.70,188.72 192.10,188.06 192.50,188.60 192.90,188.04 193.30,189.47 193.70,188.72 194.10,189.36 194.50,188.02 194.90,188.78 195.30,188.05 195.70,188.74 196.10,188.78 196.50,187.76 196.90,187.97 197.30,187.96 197.70,187.80 198.10,188.15 198.50,188.05 198.90,187.83 199.30,188.53 199.70,188.73 200.10,187.89 200.50,188.23 200.90,188.49 201.30,188.38 201.70,188.17 202.10,188.85 202.50,188.87 202.90,188.80 203.30,188.40 203.70,189.38 204.10,189.27 204.50,188.31 204.90,188.44 205.30,189.03 205.70,188.13 206.10,188.67 206.50,188.52 206.90,188.18 207.30,188.39 207.70,187.79 208.10,188.25 208.50,187.60 208.90,189.53 209.30,189.18 209.70,189.05 210.10,188.64 210.50,188.95 210.90,189.08 211.30,188.96 211.70,188.92 212.10,188.11 212.50,188.70 212.90,188.27 213.30,187.98 213.70,187.99 214.10,188.70 214.50,188.98 214.90,187.89 215.30,189.30 215.70,189.17 216.10,188.34 216.50,188.30 216.90,188.48 217.30,188.96 217.70,188.34 218.10,188.02 218.50,188.67 218.90,187.59 219.30,188.58 219.70,189.04 220.10,188.66 220.50,188.87 220.90,188.74 221.30,188.85 221.70,188.59 222.10,188.15 222.50,188.42 222.90,188.49 223.30,189.09 223.70,189.26 224.10,188.72 224.50,188.19 224.90,188.20 225.30,188.45 225.70,189.16 226.10,188.68 226.50,188.51 226.90,188.19 227.30,188.93 227.70,188.67 228.10,189.67 228.50,188.59 228.90,189.30 229.30,188.47 229.70,189.30 230.10,189.68 230.50,188.57 230.90,188.94 231.30,188.49 231.70,188.17 232.10,188.43 232.50,188.14 232.90,188.78 233.30,188.56 233.70,188.81 234.10,188.93 234.50,187.15 234.90,189.51 235.30,187.75 235.70,188.63 236.10,188.16 236.50,188.61 236.90,189.18 237.30,187.79 237.70,188.65 238.10,188.53 238.50,188.54 238.90,188.86 239.30,188.58 239.70,188.34 240.10,188.25 240.50,190.02 240.90,188.40 241.30,187.76 241.70,188.16 242.10,188.41 242.50,188.40 242.90,188.54 243.30,188.11 243.70,188.82 244.10,188.36 244.50,187.97 244.90,188.22 245.30,188.41 245.70,188.97 246.10,188.81 246.50,189.61 246.90,188.60 247.30,188.69 247.70,189.51 248.10,188.32 248.50,188.81 248.90,188.92 249.30,188.17 249.70,189.46 250.10,188.67 250.50,188.39 250.90,188.86 251.30,189.07 251.70,189.11 252.10,188.52 252.50,188.69 252.90,189.67 253.30,188.11 253.70,188.71 254.10,189.02 254.50,189.70 254.90,188.91 255.30,188.70 255.70,188.96 256.10,189.20 256.50,188.88 256.90,188.72 257.30,188.60 257.70,188.45 258.10,188.62 258.50,188.12 258.90,188.97 259.30,189.40 259.70,189.41 260.10,189.22 260.50,188.21 260.90,189.33 261.30,188.33 261.70,188.63 262.10,189.48 262.50,188.17 262.90,189.03 263.30,188.78 263.70,188.59 264.10,188.27 264.50,188.85 264.90,188.46 265.30,189.14 265.70,189.22 266.10,188.05 266.50,188.45 266.90,188.53 267.30,188.15 267.70,188.18 268.10,188.72 268.50,188.59 268.90,187.95 269.30,188.45 269.70,188.93 270.10,188.15 270.50,188.28 270.90,189.42 271.30,189.30 271.70,187.98 272.10,188.10 272.50,188.88 272.90,188.29 273.30,188.60 273.70,188.52 274.10,188.97 274.50,187.59 274.90,187.74 275.30,188.18 275.70,189.19 276.10,188.67 276.50,187.97 276.90,188.96 277.30,189.06 277.70,188.64 278.10,188.60 278.50,188.95 278.90,189.30 279.30,188.83 279.70,189.00 280.10,189.81 280.50,188.59 280.90,188.36 281.30,188.89 281.70,188.64 282.10,188.67 282.50,189.20 282.90,189.00 283.30,189.18 283.70,189.66 284.10,189.04 284.50,188.53 284.90,188.43 285.30,188.41 285.70,189.35 286.10,189.18 286.50,188.48 286.90,188.30 287.30,188.82 287.70,188.61 288.10,189.56 288.50,188.16 288.90,188.00 289.30,188.71 289.70,188.83 290.10,188.89 290.50,189.17 290.90,189.77 291.30,188.69 291.70,188.60 292.10,188.05 292.50,188.96 292.90,189.24 293.30,188.74 293.70,189.39 294.10,188.87 294.50,189.54 294.90,189.02 295.30,188.39 295.70,188.58 296.10,188.18 296.50,188.09 296.90,189.12 297.30,189.27 297.70,189.76 298.10,188.86 298.50,188.78 298.90,188.39 299.30,189.34 299.70,189.07 300.10,188.63 300.50,189.21 300.90,189.16 301.30,188.07 301.70,189.25 302.10,188.98 302.50,188.74 302.90,188.73 303.30,189.71 303.70,189.62 304.10,189.75 304.50,188.41 304.90,188.64 305.30,189.34 305.70,188.40 306.10,188.62 306.50,188.13 306.90,189.78 307.30,189.43 307.70,189.16 308.10,189.05 308.50,188.77 308.90,190.24 309.30,189.24 309.70,189.26 310.10,189.52 310.50,189.80 310.90,188.58 311.30,189.56 311.70,189.34 312.10,189.23 312.50,188.80 312.90,187.98 313.30,189.24 313.70,188.39 314.10,189.49 314.50,188.30 314.90,188.17 315.30,189.15 315.70,189.20 316.10,189.06 316.50,188.47 316.90,189.42 317.30,188.36 317.70,188.82 318.10,188.67 318.50,188.86 318.90,189.42 319.30,188.75 319.70,189.29 320.10,189.36 320.50,188.28 320.90,188.52 321.30,188.88 321.70,188.79 322.10,189.20 322.50,188.19 322.90,189.39 323.30,189.40 323.70,189.00 324.10,188.45 324.50,189.08 324.90,188.84 325.30,189.34 325.70,189.05 326.10,189.42 326.50,188.90 326.90,189.75 327.30,188.06 327.70,188.64 328.10,189.33 328.50,188.43 328.90,189.44 329.30,188.57 329.70,189.16 330.10,188.71 330.50,188.93 330.90,189.21 331.30,189.08 331.70,188.96 332.10,190.11 332.50,189.14 332.90,188.71 333.30,189.56 333.70,189.52 334.10,189.70 334.50,189.96 334.90,188.74 335.30,189.64 335.70,189.68 336.10,189.17 336.50,189.28 336.90,187.82 337.30,188.92 337.70,189.99 338.10,188.38 338.50,188.95 338.90,190.43 339.30,189.45 339.70,189.93 340.10,188.41 340.50,189.22 340.90,190.29 341.30,188.62 341.70,189.20 342.10,190.07 342.50,189.81 342.90,189.47 343.30,188.05 343.70,189.17 344.10,190.68 344.50,189.10 344.90,189.21 345.30,190.63 345.70,189.15 346.10,188.81 346.50,189.36 346.90,189.12 347.30,189.12 347.70,189.23 348.10,189.62 348.50,189.38 348.90,188.73 349.30,189.22 349.70,189.49 350.10,189.07 350.50,190.25 350.90,189.64 351.30,188.85 351.70,189.44 352.10,190.20 352.50,190.01 352.90,189.82 353.30,189.72 353.70,189.01 354.10,188.67 354.50,189.57 354.90,189.44 355.30,189.56 355.70,189.32 356.10,189.48 356.50,189.11 356.90,189.56 357.30,190.72 357.70,189.33 358.10,189.72 358.50,188.56 358.90,189.01 359.30,190.02 359.70,190.16 360.10,189.49 360.50,189.33 360.90,188.81 361.30,189.55 361.70,189.74 362.10,188.89 362.50,189.65 362.90,189.62 364.40,201.60 367.10,234.00 369.00,252.00 369.80,255.40 370.80,252.50 370.80,252.02 371.20,251.23 371.60,249.96 372.00,246.62 372.40,243.69 372.80,243.07 373.20,239.03 373.60,238.25 374.00,238.11 374.40,236.15 374.80,233.46 375.20,232.19 375.60,232.95 376.00,231.37 376.40,230.04 376.80,229.75 377.20,228.01 377.60,226.00 378.00,226.87 378.40,224.92 378.80,223.87 379.20,222.90 379.60,223.34 380.00,222.00 380.40,222.41 380.80,221.21 381.20,221.59 381.60,220.07 382.00,219.47 382.40,218.25 382.80,218.64 383.20,219.73 383.60,221.29 384.00,218.54 384.40,219.27 384.80,220.88 385.20,221.42 385.60,220.68 386.00,221.16 386.40,219.90 386.80,220.63 387.20,220.93 387.60,220.78 388.00,219.04 388.40,218.72 388.80,219.01 389.20,219.29 389.60,218.69 390.00,217.64 390.40,218.21 390.80,218.45 391.20,217.09 391.60,216.46 392.00,217.53 392.40,217.18 392.80,217.31 393.20,216.35 393.60,215.44 394.00,215.17 394.40,214.35 394.80,214.00 395.20,213.87 395.60,213.51 396.00,214.18 396.40,212.05 396.80,212.32 397.20,211.35 397.60,212.20 398.00,210.77 398.40,209.74 398.80,209.97 399.20,208.81 399.60,207.72 400.00,208.35 400.40,207.03 400.80,207.06 401.20,205.97 401.60,205.06 402.00,204.07 402.40,202.82 402.80,203.69 403.20,202.90 403.60,203.01 404.00,202.27 404.40,201.58 404.80,201.21 405.20,202.32 405.60,202.67 406.00,201.51 406.40,201.98 406.80,202.59 407.20,201.01 407.60,201.34 408.00,200.79 408.40,202.40 408.80,201.78 409.20,201.31 409.60,200.53 410.00,201.62 410.40,202.50 410.80,201.68 411.20,201.67 411.60,202.50 412.00,201.28 412.40,202.27 412.80,202.74 413.20,201.87 413.60,201.92 414.00,202.76 414.40,202.60 414.80,202.57 415.20,202.95 415.60,203.03 416.00,202.31 416.40,202.57 416.80,203.42 417.20,203.97 417.60,204.22 418.00,202.77 418.40,204.19 418.80,204.04 419.20,203.56 419.60,203.99 420.00,204.28 420.40,205.00 420.80,203.07 421.20,204.26 421.60,203.77 422.00,203.73 422.40,204.68 422.80,204.46 423.20,203.19 423.60,203.70 424.00,204.06 424.40,202.93 424.80,204.52 425.20,203.87 425.60,204.04 426.00,204.16 426.40,205.19 426.80,203.96 427.20,203.69 427.60,205.15 428.00,203.60 428.40,203.59 428.80,202.99 429.20,204.71 429.60,204.15 430.00,204.29 430.40,204.08 430.80,203.87 431.20,203.43 431.60,203.43 432.00,204.27 432.40,204.06 432.80,205.11 433.20,203.45 433.60,203.64 434.00,203.27 434.40,204.93 434.80,203.13 435.20,204.51 435.60,204.98 436.00,203.88 436.40,204.47 436.80,202.49 437.20,203.69 437.60,202.80 438.00,204.05 438.40,203.93 438.80,203.37 439.20,204.54 439.60,204.12 440.00,203.49 440.40,203.48 440.80,202.79 441.20,203.66 441.60,205.24 442.00,203.25 442.40,204.02 442.80,203.32 443.20,204.24 443.60,203.96 444.00,203.47 444.40,202.38 444.80,203.24 445.20,204.40 445.60,203.38 446.00,203.96 446.40,203.17 446.80,202.19 447.20,203.75 447.60,203.65 448.00,203.01 448.40,203.12 448.80,203.55 449.20,202.92 449.60,203.54 450.00,203.13 450.40,201.61 450.80,203.11 451.20,202.77 451.60,202.57 452.00,203.40 452.40,202.75 452.80,203.43 453.20,203.79 453.60,203.10 454.00,201.90 454.40,202.43 454.80,203.54 455.20,202.69 455.60,202.28 456.00,202.75 456.40,203.13 456.80,202.93 457.20,203.16 457.60,202.11 458.00,202.46 458.40,202.45 458.80,202.58 459.20,201.11 459.60,202.37 460.00,201.58 460.40,203.44 460.80,203.52 461.20,203.58 461.60,202.95 462.00,202.03 462.40,203.00 462.80,202.17 463.20,202.71 463.60,201.64 464.00,201.84 464.40,202.54 464.80,203.42 465.20,202.16 465.60,203.72 466.00,204.04 466.40,201.23 466.80,202.08 467.20,201.42 467.60,201.96 468.00,201.67 468.40,201.97 468.80,202.67 469.20,202.63 469.60,202.14 470.00,201.94 470.40,202.01 470.80,201.99 471.20,202.28 471.60,201.87 472.00,202.20 472.40,200.93 472.80,202.37 473.20,203.01 473.60,201.91 474.00,200.79 474.40,202.68 474.80,201.50 475.20,199.65 475.60,201.55 476.00,202.10 476.40,201.93 476.80,202.51 477.20,202.06 477.60,201.70 478.00,200.23 478.40,200.81 478.80,201.69 479.20,202.02 479.60,200.83 480.00,201.10 480.40,201.83 480.80,200.17 481.20,200.13 481.60,201.30 482.00,201.62 482.40,201.10 482.80,199.83 483.20,201.42 483.60,200.47 484.00,201.83 484.40,201.29 484.80,201.53 485.20,201.77 485.60,200.95 486.00,201.87 486.40,202.15 486.80,201.54 487.20,202.18 487.60,200.81 488.00,201.86 488.40,201.40 488.80,200.51 489.20,201.13 489.60,200.80 490.00,200.77 490.40,201.20 490.80,201.86 491.20,200.89 491.60,201.18 492.00,200.07 492.40,201.14 492.80,201.85 493.20,201.60 493.60,201.36 494.00,200.65 494.40,200.32 494.80,200.92 495.20,200.04 495.60,200.10 496.00,201.59 496.40,200.29 496.80,202.16 497.20,199.91 497.60,201.18 498.00,200.05 498.40,200.97 498.80,200.12 499.20,200.85 499.60,200.70 500.00,200.48 500.40,201.13 500.80,201.81 501.20,200.34 501.60,201.34 502.00,200.78 502.40,200.68 502.80,202.21 503.20,199.17 503.60,200.18 504.00,199.39 504.40,200.41 504.80,200.45 505.20,203.24 505.60,200.82 506.00,201.81 506.40,201.45 506.80,200.23 507.20,200.86 507.60,201.67 508.00,200.61 508.40,200.62 508.80,200.81 509.20,199.41 509.60,199.87 510.00,200.65 510.40,200.78 510.80,199.75 511.20,200.15 511.60,200.28 512.00,200.24 512.40,200.81 512.80,200.39 513.20,200.42 513.60,199.31 514.00,199.54 514.40,200.48 514.80,199.14 515.20,200.42 515.60,199.76 516.00,199.64 516.40,200.63 516.80,199.70 517.20,199.56 517.60,199.67 518.00,200.17 518.40,202.02 518.80,198.63 519.20,200.07 519.60,199.90 520.00,200.72 520.40,199.78 520.80,198.31 521.20,200.93 521.60,199.24 522.00,199.94 522.40,199.02 522.80,199.19 523.20,199.59 523.60,200.52 524.00,200.50 524.40,199.48 524.80,200.23 525.20,199.61 525.60,199.93 526.00,199.95 526.40,200.26 526.80,199.38 527.20,199.70 527.60,199.93 528.00,199.83 528.40,199.20 528.80,200.94 529.20,199.41 529.60,200.24 530.00,199.84 530.40,200.53 530.80,198.15 531.20,201.08 531.60,199.49 532.00,198.77 532.40,199.71 532.80,201.17 533.20,199.94 533.60,198.72 534.00,199.24 534.40,200.48 534.80,198.56 535.20,199.39 535.60,199.30 536.00,201.00 536.40,199.28 537.40,201.00 539.60,238.50" fill="none" stroke="#FF4A10" stroke-width="2.3" stroke-linejoin="round" /><polyline points="378.80,223.87 379.20,222.90 379.60,223.34 380.00,222.00 380.40,222.41 380.80,221.21 381.20,221.59 381.60,220.07 382.00,219.47 382.40,218.25 382.80,218.64 383.20,219.73 383.60,221.29 384.00,218.54 384.40,219.27 384.80,220.88 385.20,221.42 385.60,220.68 386.00,221.16 386.40,219.90 386.80,220.63 387.20,220.93 387.60,220.78 388.00,219.04 388.40,218.72 388.80,219.01 389.20,219.29 389.60,218.69 390.00,217.64 390.40,218.21 390.80,218.45 391.20,217.09 391.60,216.46 392.00,217.53 392.40,217.18 392.80,217.31 393.20,216.35 393.60,215.44 394.00,215.17 394.40,214.35 394.80,214.00 395.20,213.87 395.60,213.51 396.00,214.18 396.40,212.05 396.80,212.32 397.20,211.35 397.60,212.20 398.00,210.77 398.40,209.74 398.80,209.97" fill="none" stroke="#FF4A10" stroke-width="3.3" stroke-linejoin="round" /><polyline points="58.9,186.14 59.3,185.15 59.7,185.09 60.1,185.99 60.5,185.80 60.9,184.64 61.3,185.81 61.7,185.82 62.1,185.19 62.5,185.61 62.9,185.64 63.3,185.26 63.7,185.22 64.1,185.17 64.5,185.37 64.9,184.85 65.3,185.49 65.7,184.77 66.1,185.55 66.5,185.48 66.9,185.01 67.3,185.94 67.7,186.48 68.1,186.18 68.5,184.85 68.9,186.16 69.3,185.64 69.7,185.51 70.1,185.24 70.5,185.53 70.9,186.23 71.3,185.81 71.7,185.34 72.1,185.21 72.5,185.34 72.9,185.84 73.3,186.47 73.7,185.03 74.1,185.55 74.5,185.36 74.9,185.18 75.3,185.76 75.7,185.83 76.1,184.86 76.5,185.05 76.9,186.16 77.3,185.72 77.7,185.83 78.1,185.32 78.5,185.38 78.9,185.80 79.3,185.33 79.7,185.03 80.1,185.58 80.5,186.03 80.9,185.07 81.3,186.11 81.7,185.94 82.1,185.16 82.5,185.60 82.9,185.57 83.3,185.91 83.7,185.93 84.1,184.96 84.5,184.94 84.9,186.11 85.3,185.66 85.7,185.82 86.1,185.78 86.5,186.37 86.9,185.02 87.3,186.16 87.7,185.21 88.1,185.98 88.5,186.29 88.9,184.94 89.3,185.83 89.7,185.49 90.1,185.49 90.5,185.65 90.9,185.11 91.3,185.16 91.7,185.96 92.1,186.06 92.5,185.36 92.9,184.93 93.3,186.79 93.7,186.19 94.1,185.83 94.5,185.14 94.9,185.37 95.3,185.78 95.7,185.19 96.1,186.45 96.5,185.73 96.9,185.86 97.3,185.16 97.7,185.22 98.1,185.28 98.5,185.81 98.9,185.55 99.3,185.54 99.7,185.84 100.1,185.79 100.5,186.42 100.9,185.59 101.3,185.19 101.7,185.69 102.1,186.42 102.5,185.42 102.9,185.72 103.3,185.52 103.7,185.90 104.1,185.83 104.5,185.31 104.9,185.60 105.3,186.17 105.7,186.25 106.1,186.17 106.5,186.14 106.9,185.56 107.3,185.54 107.7,186.18 108.1,185.15 108.5,185.70 108.9,184.82 109.3,185.55 109.7,185.39 110.1,185.15 110.5,186.02 110.9,185.38 111.3,185.56 111.7,185.62 112.1,185.39 112.5,186.45 112.9,185.51 113.3,185.85 113.7,185.12 114.1,185.53 114.5,185.60 114.9,185.61 115.3,185.48 115.7,185.84 116.1,186.54 116.5,185.71 116.9,185.71 117.3,185.59 117.7,187.02 118.1,186.57 118.5,186.06 118.9,186.13 119.3,185.44 119.7,185.72 120.1,185.90 120.5,185.85 120.9,185.38 121.3,185.42 121.7,186.05 122.1,185.96 122.5,184.77 122.9,185.85 123.3,186.43 123.7,185.50 124.1,185.93 124.5,185.10 124.9,186.23 125.3,185.28 125.7,185.21 126.1,185.67 126.5,186.99 126.9,185.53 127.3,185.22 127.7,186.06 128.1,185.95 128.5,186.65 128.9,185.22 129.3,185.07 129.7,185.69 130.1,186.04 130.5,186.03 130.9,186.39 131.3,185.13 131.7,185.46 132.1,185.80 132.5,186.28 132.9,186.10 133.3,185.66 133.7,185.37 134.1,186.31 134.5,186.34 134.9,187.21 135.3,185.80 135.7,186.68 136.1,185.30 136.5,185.63 136.9,185.56 137.3,185.67 137.7,185.47 138.1,185.64 138.5,185.88 138.9,185.69 139.3,186.23 139.7,185.87 140.1,185.91 140.5,186.64 140.9,186.07 141.3,186.00 141.7,185.92 142.1,185.96 142.5,186.21 142.9,185.54 143.3,186.50 143.7,186.71 144.1,186.51 144.5,185.70 144.9,185.17 145.3,185.74 145.7,186.03 146.1,186.36 146.5,185.87 146.9,185.81 147.3,186.71 147.7,185.64 148.1,186.49 148.5,186.42 148.9,185.33 149.3,186.12 149.7,185.71 150.1,185.52 150.5,185.08 150.9,185.22 151.3,186.20 151.7,185.81 152.1,186.14 152.5,185.48 152.9,185.85 153.3,185.88 153.7,185.26 154.1,185.20 154.5,186.24 154.9,186.10 155.3,185.57 155.7,185.98 156.1,186.36 156.5,186.94 156.9,185.61 157.3,186.35 157.7,187.09 158.1,186.08 158.5,186.77 158.9,184.79 159.3,186.77 159.7,186.06 160.1,185.15 160.5,186.46 160.9,186.59 161.3,186.67 161.7,186.67 162.1,186.07 162.5,185.73 162.9,185.87 163.3,186.08 163.7,186.30 164.1,185.87 164.5,186.14 164.9,186.55 165.3,186.28 165.7,187.25 166.1,187.19 166.5,185.57 166.9,185.86 167.3,185.50 167.7,185.57 168.1,186.42 168.5,185.67 168.9,185.64 169.3,186.03 169.7,186.56 170.1,185.99 170.5,186.00 170.9,186.63 171.3,186.41 171.7,186.41 172.1,186.65 172.5,185.70 172.9,186.30 173.3,185.89 173.7,186.71 174.1,186.61 174.5,185.70 174.9,186.88 175.3,185.65 175.7,186.80 176.1,186.33 176.5,185.81 176.9,185.69 177.3,186.09 177.7,186.24 178.1,185.90 178.5,186.53 178.9,185.57 179.3,186.26 179.7,186.27 180.1,185.35 180.5,186.43 180.9,185.66 181.3,185.06 181.7,185.99 182.1,186.18 182.5,186.75 182.9,186.07 183.3,187.03 183.7,187.02 184.1,186.86 184.5,186.97 184.9,186.50 185.3,186.06 185.7,186.65 186.1,186.82 186.5,186.46 186.9,186.23 187.3,185.58 187.7,186.69 188.1,186.53 188.5,185.72 188.9,186.42 189.3,186.73 189.7,186.32 190.1,186.77 190.5,186.76 190.9,185.66 191.3,186.25 191.7,186.64 192.1,186.86 192.5,187.10 192.9,185.47 193.3,186.38 193.7,186.77 194.1,187.03 194.5,187.26 194.9,185.97 195.3,186.25 195.7,185.92 196.1,186.85 196.5,185.80 196.9,187.04 197.3,186.92 197.7,186.70 198.1,185.39 198.5,186.14 198.9,186.84 199.3,185.78 199.7,186.36 200.1,186.43 200.5,186.93 200.9,186.63 201.3,186.63 201.7,186.28 202.1,186.51 202.5,186.44 202.9,186.87 203.3,186.43 203.7,187.03 204.1,185.69 204.5,187.12 204.9,186.45 205.3,187.09 205.7,186.58 206.1,186.97 206.5,187.29 206.9,186.28 207.3,186.60 207.7,186.48 208.1,186.67 208.5,185.77 208.9,186.49 209.3,186.45 209.7,186.19 210.1,186.49 210.5,185.83 210.9,187.28 211.3,186.82 211.7,187.53 212.1,186.17 212.5,186.03 212.9,186.75 213.3,185.79 213.7,186.73 214.1,186.28 214.5,186.46 214.9,186.76 215.3,186.66 215.7,187.56 216.1,186.96 216.5,186.01 216.9,187.14 217.3,185.99 217.7,186.70 218.1,186.05 218.5,186.26 218.9,187.32 219.3,186.40 219.7,186.36 220.1,186.41 220.5,186.53 220.9,187.40 221.3,186.11 221.7,186.09 222.1,186.99 222.5,185.92 222.9,186.53 223.3,187.27 223.7,186.72 224.1,186.48 224.5,186.37 224.9,186.28 225.3,186.44 225.7,186.80 226.1,187.35 226.5,187.22 226.9,186.47 227.3,186.39 227.7,187.10 228.1,185.86 228.5,186.55 228.9,186.61 229.3,186.22 229.7,186.28 230.1,186.95 230.5,185.96 230.9,186.33 231.3,186.47 231.7,186.83 232.1,186.12 232.5,187.34 232.9,186.65 233.3,186.68 233.7,186.63 234.1,186.48 234.5,186.33 234.9,187.39 235.3,186.92 235.7,186.77 236.1,187.32 236.5,186.48 236.9,187.15 237.3,186.85 237.7,186.41 238.1,187.22 238.5,186.12 238.9,187.18 239.3,186.42 239.7,187.07 240.1,187.55 240.5,187.15 240.9,186.58 241.3,186.86 241.7,186.70 242.1,186.31 242.5,186.34 242.9,186.91 243.3,187.16 243.7,186.03 244.1,186.87 244.5,187.16 244.9,186.96 245.3,186.42 245.7,187.43 246.1,186.32 246.5,187.24 246.9,187.72 247.3,185.93 247.7,187.06 248.1,187.09 248.5,187.05 248.9,186.57 249.3,186.80 249.7,186.27 250.1,187.02 250.5,187.23 250.9,186.64 251.3,186.51 251.7,186.74 252.1,186.97 252.5,187.01 252.9,186.93 253.3,187.02 253.7,186.35 254.1,185.65 254.5,187.30 254.9,187.70 255.3,186.31 255.7,186.68 256.1,187.16 256.5,187.48 256.9,187.34 257.3,187.65 257.7,187.00 258.1,187.23 258.5,187.23 258.9,186.82 259.3,187.63 259.7,187.35 260.1,187.52 260.5,186.86 260.9,187.56 261.3,186.54 261.7,187.25 262.1,185.78 262.5,186.57 262.9,187.43 263.3,186.85 263.7,187.16 264.1,186.28 264.5,187.84 264.9,187.38 265.3,187.08 265.7,187.30 266.1,187.26 266.5,187.79 266.9,187.21 267.3,186.39 267.7,186.98 268.1,187.74 268.5,187.40 268.9,186.91 269.3,187.42 269.7,187.18 270.1,187.43 270.5,186.36 270.9,186.70 271.3,187.47 271.7,187.04 272.1,187.32 272.5,188.11 272.9,187.00 273.3,187.28 273.7,186.89 274.1,186.86 274.5,187.14 274.9,186.47 275.3,186.15 275.7,187.85 276.1,187.14 276.5,187.74 276.9,187.25 277.3,187.27 277.7,187.53 278.1,187.56 278.5,186.62 278.9,187.81 279.3,186.75 279.7,187.32 280.1,188.48 280.5,187.27 280.9,188.05 281.3,187.07 281.7,187.55 282.1,187.28 282.5,187.46 282.9,186.84 283.3,186.82 283.7,187.43 284.1,186.51 284.5,186.87 284.9,187.60 285.3,186.99 285.7,186.86 286.1,186.76 286.5,187.38 286.9,187.13 287.3,187.39 287.7,187.23 288.1,188.23 288.5,187.12 288.9,186.38 289.3,187.40 289.7,187.35 290.1,187.43 290.5,186.58 290.9,187.92 291.3,187.36 291.7,187.36 292.1,186.62 292.5,187.63 292.9,187.37 293.3,188.08 293.7,187.22 294.1,186.83 294.5,187.51 294.9,187.01 295.3,187.67 295.7,186.95 296.1,187.43 296.5,187.39 296.9,187.49 297.3,187.27 297.7,187.14 298.1,187.51 298.5,187.27 298.9,187.64 299.3,187.44 299.7,186.49 300.1,187.56 300.5,188.27 300.9,187.75 301.3,187.91 301.7,187.84 302.1,187.40 302.5,186.99 302.9,188.03 303.3,188.15 303.7,187.92 304.1,187.85 304.5,187.84 304.9,187.64 305.3,187.78 305.7,187.65 306.1,187.80 306.5,187.18 306.9,187.33 307.3,187.90 307.7,187.45 308.1,186.43 308.5,187.64 308.9,186.46 309.3,188.47 309.7,187.88 310.1,187.83 310.5,187.16 310.9,186.91 311.3,187.30 311.7,187.24 312.1,186.60 312.5,186.73 312.9,186.63 313.3,186.22 313.7,185.07 314.1,184.21 314.5,184.99 314.9,184.50 315.3,184.97 315.7,185.67 316.1,186.02 316.5,185.90 316.9,186.94 317.3,187.91 317.7,187.89 318.1,188.69 318.5,189.57 318.9,190.01 319.3,190.64 319.7,191.39 320.1,192.51 320.5,193.20 320.9,194.60 321.3,195.17 321.7,196.72 322.1,197.63 322.5,197.91 322.9,199.85 323.3,200.50 323.7,202.20 324.1,202.91 324.5,203.59 324.9,204.75 325.3,205.23 325.7,206.27 326.1,206.78 326.5,206.72 326.9,206.84 327.3,206.25 327.7,206.59 328.1,205.78 328.5,206.16 328.9,205.85 329.3,205.68 329.7,205.03 330.1,206.03 330.5,204.77 330.9,204.72 331.3,204.23 331.7,204.77 332.1,203.95 332.5,204.24 332.9,203.41 333.3,203.65 333.7,203.24 334.1,203.51 334.5,202.96 334.9,202.63 335.3,202.95 335.7,202.31 336.1,202.32 336.5,202.85 336.9,201.96 337.3,202.85 337.7,202.49 338.1,202.38 338.5,202.84 338.9,203.05 339.3,202.75 339.7,203.00 340.1,203.45 340.5,203.56 340.9,203.43 341.3,203.33 341.7,203.40 342.1,203.66 342.5,204.23 342.9,204.37 343.3,204.48 343.7,205.05 344.1,204.71 344.5,204.92 344.9,205.16 345.3,206.17 345.7,205.12 346.1,206.16 346.5,206.48 346.9,206.63 347.3,207.65 347.7,207.53 348.1,207.66 348.5,207.37 348.9,208.08 349.3,208.05 349.7,208.44 350.1,208.76 350.5,208.80 350.9,209.44 351.3,210.04 351.7,210.12 352.1,210.13 352.5,209.70 352.9,210.97 353.3,211.25 353.7,211.10 354.1,211.28 354.5,211.93 354.9,211.72 355.3,212.51 355.7,212.16 356.1,212.47 356.5,213.03 356.9,212.79 357.3,213.52 357.7,213.93 358.1,213.55 358.5,214.52 358.9,214.25 359.3,214.84 359.7,214.94 360.1,214.94 360.5,215.13 360.9,214.95 361.3,215.50 361.7,215.68 362.1,216.69 362.5,216.69 362.9,216.12 363.3,217.05 363.7,217.07 364.1,217.09 364.5,217.59 364.9,217.92 365.3,217.70 365.7,218.03 366.1,218.41 366.5,218.28 366.9,218.92 367.3,219.09 367.7,219.16 368.1,219.38 368.5,220.03 368.9,220.49 369.3,220.58 369.7,220.47 370.1,221.26 370.5,221.34 370.9,221.74 371.3,222.17 371.7,221.74 372.1,222.22 372.5,222.30 372.9,222.42 373.3,223.57 373.7,223.42 374.1,222.74 374.5,223.65 374.9,223.53 375.3,224.28 375.7,224.12 376.1,224.21 376.5,224.49 376.9,224.75 377.3,224.80 377.7,224.88 378.1,225.06 378.5,225.42 378.9,225.03 379.3,225.53 379.7,225.62 380.1,225.63 380.5,226.15 380.9,225.60 381.3,226.02 381.7,225.97 382.1,226.53 382.5,226.30 382.9,226.57 383.3,226.78 383.7,226.23 384.1,226.99 384.5,226.69 384.9,226.94 385.3,227.07 385.7,227.46 386.1,227.52 386.5,227.94 386.9,227.51 387.3,227.39 387.7,227.47 388.1,227.95 388.5,228.35 388.9,228.03 389.3,227.82 389.7,228.19 390.1,228.26 390.5,228.26 390.9,228.08 391.3,227.55 391.7,228.25 392.1,228.81 392.5,228.56 392.9,227.78 393.3,228.50 393.7,227.89 394.1,229.14 394.5,228.53 394.9,228.06 395.3,228.69 395.7,228.15 396.1,228.56 396.5,228.35 396.9,227.92 397.3,228.44 397.7,227.54 398.1,228.05 398.5,227.18 398.9,226.31 399.3,225.51 399.7,226.10 400.1,225.55 400.5,224.14 400.9,224.50 401.3,223.40 401.7,222.66 402.1,222.10 402.5,221.49 402.9,221.57 403.3,220.76 403.7,219.73 404.1,220.65 404.5,219.91 404.9,218.93 405.3,218.87 405.7,218.43 406.1,218.52 406.5,218.45 406.9,218.28 407.3,217.91 407.7,217.76 408.1,218.21 408.5,217.82 408.9,218.52 409.3,217.46 409.7,217.92 410.1,217.63 410.5,217.32 410.9,217.98 411.3,217.56 411.7,217.21 412.1,217.40 412.5,217.84 412.9,217.11 413.3,217.97 413.7,217.76 414.1,217.47 414.5,218.03 414.9,218.18 415.3,217.84 415.7,217.73 416.1,218.31 416.5,218.24 416.9,217.49 417.3,217.78 417.7,217.90 418.1,218.00 418.5,217.83 418.9,218.81 419.3,218.73 419.7,218.89 420.1,219.42 420.5,218.81 420.9,218.97 421.3,219.06 421.7,218.78 422.1,218.84 422.5,219.06 422.9,218.73 423.3,219.08 423.7,218.30 424.1,218.51 424.5,217.86 424.9,218.15 425.3,217.73 425.7,218.10 426.1,217.52 426.5,217.00 426.9,216.96 427.3,216.29 427.7,215.49 428.1,214.45 428.5,213.60 428.9,213.47 429.3,212.77 429.7,212.10 430.1,211.67 430.5,210.69 430.9,211.15 431.3,209.66 431.7,209.17 432.1,208.94 432.5,207.60 432.9,207.86 433.3,207.37 433.7,206.54 434.1,205.98 434.5,205.90 434.9,205.18 435.3,206.01 435.7,205.36 436.1,204.93 436.5,204.76 436.9,205.19 437.3,205.51 437.7,204.64 438.1,204.97 438.5,204.70 438.9,205.66 439.3,205.68 439.7,206.59 440.1,206.04 440.5,206.19 440.9,206.37 441.3,207.17 441.7,206.65 442.1,207.74 442.5,207.88 442.9,207.93 443.3,208.10 443.7,209.05 444.1,209.61 444.5,209.12 444.9,209.71 445.3,210.40 445.7,209.92 446.1,210.37 446.5,210.38 446.9,211.09 447.3,211.47 447.7,211.72 448.1,211.97 448.5,212.05 448.9,212.48 449.3,212.95 449.7,213.81 450.1,213.74 450.5,213.93 450.9,214.70 451.3,214.91 451.7,214.69 452.1,214.91 452.5,215.49 452.9,215.54 453.3,215.28 453.7,215.78 454.1,215.83 454.5,216.35 454.9,215.81 455.3,216.52 455.7,216.49 456.1,216.12 456.5,216.91 456.9,216.95 457.3,216.30 457.7,217.47 458.1,216.49 458.5,216.62 458.9,216.86 459.3,217.25 459.7,217.19 460.1,216.97 460.5,217.46 460.9,217.13 461.3,217.46 461.7,217.94 462.1,217.06 462.5,216.13 462.9,216.84 463.3,216.63 463.7,217.02 464.1,217.01 464.5,216.57 464.9,216.59 465.3,216.88 465.7,216.90 466.1,216.09 466.5,217.29 466.9,216.96 467.3,216.94 467.7,217.04 468.1,216.59 468.5,216.91 468.9,217.28 469.3,217.28 469.7,217.07 470.1,216.81 470.5,216.62 470.9,217.34 471.3,217.05 471.7,216.72 472.1,216.10 472.5,216.52 472.9,216.13 473.3,217.17 473.7,216.78 474.1,216.43 474.5,216.55 474.9,217.49 475.3,216.98 475.7,216.06 476.1,216.43 476.5,216.02 476.9,215.80 477.3,216.41 477.7,217.13 478.1,216.80 478.5,216.24 478.9,216.06 479.3,216.23 479.7,216.48 480.1,215.59 480.5,215.42 480.9,216.68 481.3,216.10 481.7,216.53 482.1,216.03 482.5,216.43 482.9,215.68 483.3,216.03 483.7,216.37 484.1,216.16 484.5,215.62 484.9,216.06 485.3,215.50 485.7,215.21 486.1,215.85 486.5,216.13 486.9,215.91 487.3,215.16 487.7,215.87 488.1,215.77 488.5,215.35 488.9,214.63 489.3,215.81 489.7,215.74 490.1,215.58 490.5,214.78 490.9,214.84 491.3,215.69 491.7,215.59 492.1,215.46 492.5,215.17 492.9,215.37 493.3,215.02 493.7,215.08 494.1,214.86 494.5,215.23 494.9,214.97 495.3,215.42 495.7,215.31 496.1,214.76 496.5,215.65 496.9,214.60 497.3,215.12 497.7,215.32 498.1,215.36 498.5,214.13 498.9,215.22 499.3,215.27 499.7,215.32 500.1,214.02 500.5,214.54 500.9,214.72 501.3,214.57 501.7,215.17 502.1,214.44 502.5,215.08 502.9,214.83 503.3,214.10 503.7,214.24 504.1,214.40 504.5,214.57 504.9,214.86 505.3,214.42 505.7,214.78 506.1,213.89 506.5,213.35 506.9,214.27 507.3,214.53 507.7,214.22 508.1,213.96 508.5,214.44 508.9,214.94 509.3,214.21 509.7,213.96 510.1,213.90 510.5,214.86 510.9,214.13 511.3,214.33 511.7,214.52 512.1,214.45 512.5,213.72 512.9,214.35 513.3,214.29 513.7,214.14 514.1,214.30 514.5,213.72 514.9,213.87 515.3,213.69 515.7,214.11 516.1,213.59 516.5,213.93 516.9,213.39 517.3,213.70 517.7,213.60 518.1,213.66 518.5,213.72 518.9,213.58 519.3,213.55 519.7,212.87 520.1,213.96 520.5,213.33 520.9,213.44 521.3,213.21 521.7,213.83 522.1,213.13 522.5,213.60 522.9,213.81 523.3,213.95 523.7,213.77 524.1,213.54 524.5,212.88 524.9,213.73 525.3,213.67 525.7,213.52 526.1,213.49 526.5,213.21 526.9,212.98 527.3,213.51 527.7,213.55 528.1,212.72 528.5,213.38 528.9,213.12 529.3,213.32 529.7,213.08 530.1,213.35 530.5,213.30 530.9,213.23 531.3,212.41 531.7,213.15 532.1,212.86 532.5,212.43 532.9,213.04 533.3,212.29 533.7,213.06 534.1,213.31 534.5,212.52 534.9,212.99 535.3,212.81 535.7,212.85 536.1,212.13 536.5,212.79 536.9,212.60 537.3,212.79 537.7,212.51 538.1,212.86 538.5,212.55 538.9,212.67 539.3,212.89 539.7,212.45 540.1,212.71 540.5,212.42 540.9,212.50" fill="none" stroke="#FFAE00" stroke-width="2.9" stroke-linejoin="round" /></g><text transform="translate(47.90,10.60) scale(0.930,1)" text-anchor="end" class="tk">20</text><text transform="translate(47.90,36.40) scale(0.930,1)" text-anchor="end" class="tk">10</text><text transform="translate(47.90,61.40) scale(0.930,1)" text-anchor="end" class="tk">0</text><text transform="translate(46.30,97.10) scale(0.930,1)" text-anchor="end" class="tk">30</text><text transform="translate(47.90,116.20) scale(0.930,1)" text-anchor="end" class="tk">20</text><text transform="translate(47.90,135.00) scale(0.930,1)" text-anchor="end" class="tk">10</text><text transform="translate(47.90,153.60) scale(0.930,1)" text-anchor="end" class="tk">0</text><text transform="translate(47.90,171.90) scale(0.930,1)" text-anchor="end" class="tk">−10</text><text transform="translate(47.90,197.60) scale(0.930,1)" text-anchor="end" class="tk">0</text><text transform="translate(47.90,221.30) scale(0.930,1)" text-anchor="end" class="tk">−5</text><text transform="translate(47.90,243.80) scale(0.930,1)" text-anchor="end" class="tk">−10</text><text transform="translate(87.80,272.4) scale(0.930,1)" text-anchor="middle" class="tk">58</text><text transform="translate(144.40,272.4) scale(0.930,1)" text-anchor="middle" class="tk">60</text><text transform="translate(201.00,272.4) scale(0.930,1)" text-anchor="middle" class="tk">62</text><text transform="translate(257.60,272.4) scale(0.930,1)" text-anchor="middle" class="tk">64</text><text transform="translate(314.20,272.4) scale(0.930,1)" text-anchor="middle" class="tk">66</text><text transform="translate(370.80,272.4) scale(0.930,1)" text-anchor="middle" class="tk">68</text><text transform="translate(427.40,272.4) scale(0.930,1)" text-anchor="middle" class="tk">70</text><text transform="translate(484.00,272.4) scale(0.930,1)" text-anchor="middle" class="tk">72</text><text transform="translate(540.60,272.4) scale(0.930,1)" text-anchor="middle" class="tk">74</text><text x="312.4" y="292.6" text-anchor="middle" class="xl"><tspan style="font-style:italic">t</tspan> (us)</text><text transform="translate(13.4,30.9) rotate(-90)" text-anchor="middle" class="yl" style="font-weight:bold;font-size:14.6px"><tspan style="font-style:italic">v</tspan><tspan style="font-style:italic;font-weight:normal;font-size:10px" dy="1">gs</tspan><tspan dy="-1"> (v)</tspan></text><text transform="translate(13.0,126.1) rotate(-90)" text-anchor="middle" class="yl" style="font-weight:normal;font-size:15px"><tspan style="font-style:italic">I</tspan> (A)</text><text transform="translate(13.3,214.1) rotate(-90)" text-anchor="middle" class="yl" style="font-weight:bold;font-size:14.6px"><tspan style="font-style:italic">v</tspan><tspan style="font-style:italic;font-weight:normal;font-size:9.5px" dy="1">diode</tspan><tspan dy="-1"> (v)</tspan></text><text x="89.9" y="133.2" fill="#FAB400" style="font-size:13.8px" textLength="107.5" lengthAdjust="spacingAndGlyphs" xml:space="preserve">CT with Slow Diode</text><text x="373.5" y="111.8" fill="#E34646" style="font-size:13.8px" textLength="134.6" lengthAdjust="spacingAndGlyphs" xml:space="preserve">CT with Ultra-fast  Diode</text><text x="373.5" y="134.3" fill="#1673CB" style="font-size:13.8px" textLength="106.7" lengthAdjust="spacingAndGlyphs" xml:space="preserve">CT with Fast  Diode</text><text x="287.9" y="223.7" fill="#FAB400" style="font-size:13.8px" textLength="60.9" lengthAdjust="spacingAndGlyphs" xml:space="preserve">Slow Diode</text><text x="409.2" y="238.0" fill="#1673CB" style="font-size:13.8px" textLength="55.8" lengthAdjust="spacingAndGlyphs" xml:space="preserve">Fast Diode</text><text x="378.6" y="253.6" fill="#E34646" style="font-size:13.8px" textLength="83.3" lengthAdjust="spacingAndGlyphs" xml:space="preserve">Ultra-fast Diode</text>
</svg>
</body></html>
